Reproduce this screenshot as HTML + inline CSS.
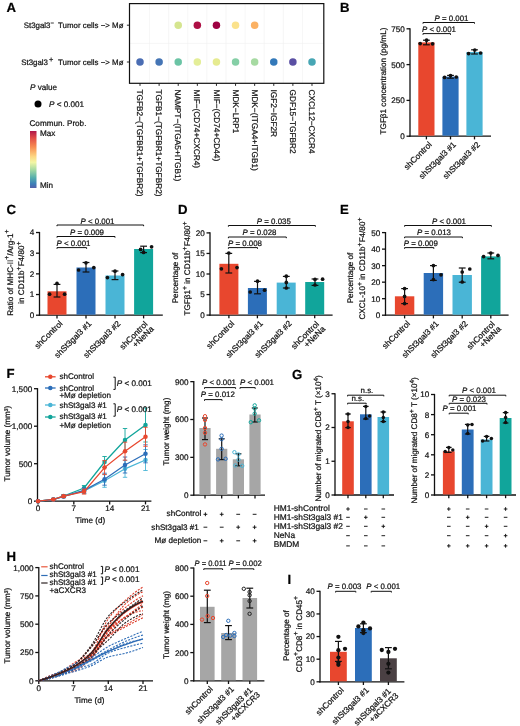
<!DOCTYPE html>
<html lang="en"><head><meta charset="utf-8"><title>Figure</title>
<style>html,body{margin:0;padding:0;background:#fff}svg{display:block}text{font-family:"Liberation Sans",Arial,sans-serif;text-rendering:geometricPrecision;stroke:#111;stroke-width:0.22px;paint-order:stroke}</style>
</head><body>
<svg width="520" height="726" viewBox="0 0 520 726">
<rect width="520" height="726" fill="#fff"/>
<!-- Panel A -->
<text x="6.50" y="12.30" font-size="13.2" text-anchor="start" font-weight="700" fill="#000">A</text>
<line x1="149.55" y1="3.60" x2="149.55" y2="83.30" stroke="#F0F0F0" stroke-width="0.6"/>
<line x1="168.66" y1="3.60" x2="168.66" y2="83.30" stroke="#F0F0F0" stroke-width="0.6"/>
<line x1="187.77" y1="3.60" x2="187.77" y2="83.30" stroke="#F0F0F0" stroke-width="0.6"/>
<line x1="206.88" y1="3.60" x2="206.88" y2="83.30" stroke="#F0F0F0" stroke-width="0.6"/>
<line x1="225.99" y1="3.60" x2="225.99" y2="83.30" stroke="#F0F0F0" stroke-width="0.6"/>
<line x1="245.10" y1="3.60" x2="245.10" y2="83.30" stroke="#F0F0F0" stroke-width="0.6"/>
<line x1="264.21" y1="3.60" x2="264.21" y2="83.30" stroke="#F0F0F0" stroke-width="0.6"/>
<line x1="283.32" y1="3.60" x2="283.32" y2="83.30" stroke="#F0F0F0" stroke-width="0.6"/>
<line x1="302.43" y1="3.60" x2="302.43" y2="83.30" stroke="#F0F0F0" stroke-width="0.6"/>
<line x1="129.50" y1="43.40" x2="323.80" y2="43.40" stroke="#F0F0F0" stroke-width="0.6"/>
<rect x="129.5" y="3.6" width="194.30" height="79.70" fill="none" stroke="#111" stroke-width="1.2"/>
<line x1="140.00" y1="83.30" x2="140.00" y2="85.90" stroke="#111" stroke-width="0.9"/>
<line x1="159.11" y1="83.30" x2="159.11" y2="85.90" stroke="#111" stroke-width="0.9"/>
<line x1="178.22" y1="83.30" x2="178.22" y2="85.90" stroke="#111" stroke-width="0.9"/>
<line x1="197.33" y1="83.30" x2="197.33" y2="85.90" stroke="#111" stroke-width="0.9"/>
<line x1="216.44" y1="83.30" x2="216.44" y2="85.90" stroke="#111" stroke-width="0.9"/>
<line x1="235.55" y1="83.30" x2="235.55" y2="85.90" stroke="#111" stroke-width="0.9"/>
<line x1="254.66" y1="83.30" x2="254.66" y2="85.90" stroke="#111" stroke-width="0.9"/>
<line x1="273.77" y1="83.30" x2="273.77" y2="85.90" stroke="#111" stroke-width="0.9"/>
<line x1="292.88" y1="83.30" x2="292.88" y2="85.90" stroke="#111" stroke-width="0.9"/>
<line x1="311.99" y1="83.30" x2="311.99" y2="85.90" stroke="#111" stroke-width="0.9"/>
<line x1="126.90" y1="25.20" x2="129.50" y2="25.20" stroke="#111" stroke-width="0.9"/>
<line x1="126.90" y1="62.00" x2="129.50" y2="62.00" stroke="#111" stroke-width="0.9"/>
<circle cx="178.22" cy="25.20" r="3.75" fill="#D5E58F"/>
<circle cx="197.33" cy="25.20" r="3.75" fill="#AE1045"/>
<circle cx="216.44" cy="25.20" r="3.75" fill="#9E0142"/>
<circle cx="235.55" cy="25.20" r="3.75" fill="#FBE28C"/>
<circle cx="254.66" cy="25.20" r="3.75" fill="#FBB163"/>
<circle cx="140.00" cy="62.00" r="3.75" fill="#4A6DB3"/>
<circle cx="159.11" cy="62.00" r="3.75" fill="#4575B5"/>
<circle cx="178.22" cy="62.00" r="3.75" fill="#6BC4A5"/>
<circle cx="197.33" cy="62.00" r="3.75" fill="#E4EE98"/>
<circle cx="216.44" cy="62.00" r="3.75" fill="#E6EB90"/>
<circle cx="235.55" cy="62.00" r="3.75" fill="#85CFA6"/>
<circle cx="254.66" cy="62.00" r="3.75" fill="#A6DAA2"/>
<circle cx="273.77" cy="62.00" r="3.75" fill="#3379B9"/>
<circle cx="292.88" cy="62.00" r="3.75" fill="#5A4FA3"/>
<circle cx="311.99" cy="62.00" r="3.75" fill="#47A6B4"/>
<text y="28.0" font-size="7.9" fill="#111"><tspan x="23.7">St3gal3</tspan><tspan x="50.4" dy="-3.2" font-size="6">−</tspan><tspan x="58.0" dy="3.2">Tumor cells −&gt; Mø</tspan></text>
<text y="65.0" font-size="7.9" fill="#111"><tspan x="21.2">St3gal3</tspan><tspan x="49.0" dy="-2.8" font-size="7.4">+</tspan><tspan x="58.0" dy="2.8">Tumor cells −&gt; Mø</tspan></text>
<text x="137.10" y="89.50" font-size="8.27" text-anchor="start" fill="#111" transform="rotate(90 137.10 89.50)">TGFB2−(TGFBR1+TGFBR2)</text>
<text x="156.21" y="89.50" font-size="8.27" text-anchor="start" fill="#111" transform="rotate(90 156.21 89.50)">TGFB1−(TGFBR1+TGFBR2)</text>
<text x="175.32" y="89.50" font-size="8.27" text-anchor="start" fill="#111" transform="rotate(90 175.32 89.50)">NAMPT−(ITGA5+ITGB1)</text>
<text x="194.43" y="89.50" font-size="8.27" text-anchor="start" fill="#111" transform="rotate(90 194.43 89.50)">MIF−(CD74+CXCR4)</text>
<text x="213.54" y="89.50" font-size="8.27" text-anchor="start" fill="#111" transform="rotate(90 213.54 89.50)">MIF−(CD74+CD44)</text>
<text x="232.65" y="89.50" font-size="8.27" text-anchor="start" fill="#111" transform="rotate(90 232.65 89.50)">MDK−LRP1</text>
<text x="251.76" y="89.50" font-size="8.27" text-anchor="start" fill="#111" transform="rotate(90 251.76 89.50)">MDK−(ITGA4+ITGB1)</text>
<text x="270.87" y="89.50" font-size="8.27" text-anchor="start" fill="#111" transform="rotate(90 270.87 89.50)">IGF2−IGF2R</text>
<text x="289.98" y="89.50" font-size="8.27" text-anchor="start" fill="#111" transform="rotate(90 289.98 89.50)">GDF15−TGFBR2</text>
<text x="309.09" y="89.50" font-size="8.27" text-anchor="start" fill="#111" transform="rotate(90 309.09 89.50)">CXCL12−CXCR4</text>
<text x="30.00" y="89.60" font-size="8.15" text-anchor="start" fill="#111"><tspan font-style="italic">P</tspan> value</text>
<circle cx="38.00" cy="104.00" r="3.5" fill="#000"/>
<text x="49.00" y="106.60" font-size="8.15" text-anchor="start" fill="#111"><tspan font-style="italic">P</tspan> &lt; 0.001</text>
<text x="29.50" y="126.00" font-size="8.15" text-anchor="start" fill="#111">Commun. Prob.</text>
<defs><linearGradient id="cb" x1="0" y1="0" x2="0" y2="1"><stop offset="0" stop-color="#B0174A"/><stop offset="0.12" stop-color="#E14B46"/><stop offset="0.28" stop-color="#F88D52"/><stop offset="0.45" stop-color="#FDD884"/><stop offset="0.55" stop-color="#F3F6A5"/><stop offset="0.68" stop-color="#A5DAA3"/><stop offset="0.82" stop-color="#54AEAD"/><stop offset="0.93" stop-color="#3C7DB8"/><stop offset="1" stop-color="#5560A9"/></linearGradient></defs>
<rect x="30" y="131" width="6.5" height="57" fill="url(#cb)"/>
<text x="40.00" y="135.60" font-size="8.15" text-anchor="start" fill="#111">Max</text>
<text x="40.00" y="187.60" font-size="8.15" text-anchor="start" fill="#111">Min</text>
<!-- Panel B -->
<text x="340.00" y="12.30" font-size="13.2" text-anchor="start" font-weight="700" fill="#000">B</text>
<line x1="410.00" y1="28.20" x2="410.00" y2="136.80" stroke="#111" stroke-width="1.3"/>
<line x1="406.50" y1="136.20" x2="410.00" y2="136.20" stroke="#111" stroke-width="1.3"/>
<text x="404.70" y="139.10" font-size="8.15" text-anchor="end" fill="#111">0</text>
<line x1="406.50" y1="100.40" x2="410.00" y2="100.40" stroke="#111" stroke-width="1.3"/>
<text x="404.70" y="103.30" font-size="8.15" text-anchor="end" fill="#111">250</text>
<line x1="406.50" y1="64.60" x2="410.00" y2="64.60" stroke="#111" stroke-width="1.3"/>
<text x="404.70" y="67.50" font-size="8.15" text-anchor="end" fill="#111">500</text>
<line x1="406.50" y1="28.80" x2="410.00" y2="28.80" stroke="#111" stroke-width="1.3"/>
<text x="404.70" y="31.70" font-size="8.15" text-anchor="end" fill="#111">750</text>
<line x1="409.40" y1="136.20" x2="491.00" y2="136.20" stroke="#111" stroke-width="1.3"/>
<line x1="426.40" y1="136.20" x2="426.40" y2="139.40" stroke="#111" stroke-width="1.3"/>
<line x1="450.50" y1="136.20" x2="450.50" y2="139.40" stroke="#111" stroke-width="1.3"/>
<line x1="474.50" y1="136.20" x2="474.50" y2="139.40" stroke="#111" stroke-width="1.3"/>
<rect x="418.30" y="42.40" width="16.20" height="93.30" fill="#E8472E"/>
<rect x="442.40" y="76.63" width="16.20" height="59.07" fill="#2C6EB9"/>
<rect x="466.40" y="52.00" width="16.20" height="83.70" fill="#4AB5D6"/>
<line x1="426.40" y1="40.20" x2="426.40" y2="44.80" stroke="#111" stroke-width="1.2"/>
<line x1="423.00" y1="40.20" x2="429.80" y2="40.20" stroke="#111" stroke-width="1.2"/>
<line x1="423.00" y1="44.80" x2="429.80" y2="44.80" stroke="#111" stroke-width="1.2"/>
<line x1="450.50" y1="75.40" x2="450.50" y2="78.20" stroke="#111" stroke-width="1.2"/>
<line x1="447.10" y1="75.40" x2="453.90" y2="75.40" stroke="#111" stroke-width="1.2"/>
<line x1="447.10" y1="78.20" x2="453.90" y2="78.20" stroke="#111" stroke-width="1.2"/>
<line x1="474.50" y1="49.80" x2="474.50" y2="54.00" stroke="#111" stroke-width="1.2"/>
<line x1="471.10" y1="49.80" x2="477.90" y2="49.80" stroke="#111" stroke-width="1.2"/>
<line x1="471.10" y1="54.00" x2="477.90" y2="54.00" stroke="#111" stroke-width="1.2"/>
<circle cx="420.20" cy="43.60" r="1.85" fill="#111"/>
<circle cx="426.60" cy="40.20" r="1.85" fill="#111"/>
<circle cx="432.60" cy="43.80" r="1.85" fill="#111"/>
<circle cx="444.60" cy="77.40" r="1.85" fill="#111"/>
<circle cx="450.50" cy="75.60" r="1.85" fill="#111"/>
<circle cx="456.30" cy="77.00" r="1.85" fill="#111"/>
<circle cx="468.60" cy="53.60" r="1.85" fill="#111"/>
<circle cx="474.80" cy="50.00" r="1.85" fill="#111"/>
<circle cx="480.60" cy="53.00" r="1.85" fill="#111"/>
<path d="M423.00 23.70V22.50H474.50V23.70" fill="none" stroke="#111" stroke-width="1"/>
<text x="434.50" y="20.60" font-size="7.9" text-anchor="start" fill="#111"><tspan font-style="italic">P</tspan> = 0.001</text>
<path d="M423.00 34.80V33.60H450.50V34.80" fill="none" stroke="#111" stroke-width="1"/>
<text x="422.00" y="32.00" font-size="7.9" text-anchor="start" fill="#111"><tspan font-style="italic">P</tspan> &lt; 0.001</text>
<text x="432.40" y="145.20" font-size="8.3" text-anchor="end" fill="#111" transform="rotate(-45 432.40 145.20)">shControl</text>
<text x="456.50" y="145.20" font-size="8.3" text-anchor="end" fill="#111" transform="rotate(-45 456.50 145.20)">shSt3gal3 #1</text>
<text x="480.50" y="145.20" font-size="8.3" text-anchor="end" fill="#111" transform="rotate(-45 480.50 145.20)">shSt3gal3 #2</text>
<text x="386.00" y="81.00" font-size="8.15" text-anchor="middle" fill="#111" transform="rotate(-90 386.00 81.00)">TGFβ1 concentration (pg/mL)</text>
<!-- Panel C -->
<text x="6.50" y="213.60" font-size="13.2" text-anchor="start" font-weight="700" fill="#000">C</text>
<line x1="39.50" y1="231.92" x2="39.50" y2="315.80" stroke="#111" stroke-width="1.3"/>
<line x1="36.00" y1="315.20" x2="39.50" y2="315.20" stroke="#111" stroke-width="1.3"/>
<text x="34.20" y="318.10" font-size="8.15" text-anchor="end" fill="#111">0</text>
<line x1="36.00" y1="294.53" x2="39.50" y2="294.53" stroke="#111" stroke-width="1.3"/>
<text x="34.20" y="297.43" font-size="8.15" text-anchor="end" fill="#111">1</text>
<line x1="36.00" y1="273.86" x2="39.50" y2="273.86" stroke="#111" stroke-width="1.3"/>
<text x="34.20" y="276.76" font-size="8.15" text-anchor="end" fill="#111">2</text>
<line x1="36.00" y1="253.19" x2="39.50" y2="253.19" stroke="#111" stroke-width="1.3"/>
<text x="34.20" y="256.09" font-size="8.15" text-anchor="end" fill="#111">3</text>
<line x1="36.00" y1="232.52" x2="39.50" y2="232.52" stroke="#111" stroke-width="1.3"/>
<text x="34.20" y="235.42" font-size="8.15" text-anchor="end" fill="#111">4</text>
<line x1="38.90" y1="315.20" x2="162.80" y2="315.20" stroke="#111" stroke-width="1.3"/>
<line x1="57.00" y1="315.20" x2="57.00" y2="318.40" stroke="#111" stroke-width="1.3"/>
<line x1="86.00" y1="315.20" x2="86.00" y2="318.40" stroke="#111" stroke-width="1.3"/>
<line x1="115.00" y1="315.20" x2="115.00" y2="318.40" stroke="#111" stroke-width="1.3"/>
<line x1="143.60" y1="315.20" x2="143.60" y2="318.40" stroke="#111" stroke-width="1.3"/>
<rect x="47.50" y="291.30" width="19.00" height="23.40" fill="#E8472E"/>
<rect x="76.50" y="267.50" width="19.00" height="47.20" fill="#2C6EB9"/>
<rect x="105.50" y="275.50" width="19.00" height="39.20" fill="#4AB5D6"/>
<rect x="134.10" y="249.00" width="19.00" height="65.70" fill="#11A59B"/>
<line x1="57.00" y1="284.40" x2="57.00" y2="297.00" stroke="#111" stroke-width="1.2"/>
<line x1="53.60" y1="284.40" x2="60.40" y2="284.40" stroke="#111" stroke-width="1.2"/>
<line x1="53.60" y1="297.00" x2="60.40" y2="297.00" stroke="#111" stroke-width="1.2"/>
<line x1="86.00" y1="262.50" x2="86.00" y2="272.00" stroke="#111" stroke-width="1.2"/>
<line x1="82.60" y1="262.50" x2="89.40" y2="262.50" stroke="#111" stroke-width="1.2"/>
<line x1="82.60" y1="272.00" x2="89.40" y2="272.00" stroke="#111" stroke-width="1.2"/>
<line x1="115.00" y1="271.00" x2="115.00" y2="279.60" stroke="#111" stroke-width="1.2"/>
<line x1="111.60" y1="271.00" x2="118.40" y2="271.00" stroke="#111" stroke-width="1.2"/>
<line x1="111.60" y1="279.60" x2="118.40" y2="279.60" stroke="#111" stroke-width="1.2"/>
<line x1="143.60" y1="246.20" x2="143.60" y2="252.60" stroke="#111" stroke-width="1.2"/>
<line x1="140.20" y1="246.20" x2="147.00" y2="246.20" stroke="#111" stroke-width="1.2"/>
<line x1="140.20" y1="252.60" x2="147.00" y2="252.60" stroke="#111" stroke-width="1.2"/>
<circle cx="57.00" cy="283.40" r="1.85" fill="#111"/>
<circle cx="49.60" cy="294.20" r="1.85" fill="#111"/>
<circle cx="64.60" cy="294.20" r="1.85" fill="#111"/>
<circle cx="86.00" cy="262.80" r="1.85" fill="#111"/>
<circle cx="78.60" cy="270.00" r="1.85" fill="#111"/>
<circle cx="93.80" cy="267.60" r="1.85" fill="#111"/>
<circle cx="115.00" cy="271.20" r="1.85" fill="#111"/>
<circle cx="107.40" cy="277.60" r="1.85" fill="#111"/>
<circle cx="122.60" cy="274.60" r="1.85" fill="#111"/>
<circle cx="140.60" cy="249.40" r="1.85" fill="#111"/>
<circle cx="151.60" cy="246.80" r="1.85" fill="#111"/>
<circle cx="143.60" cy="252.40" r="1.85" fill="#111"/>
<path d="M57.00 226.20V225.00H143.60V226.20" fill="none" stroke="#111" stroke-width="1"/>
<text x="80.50" y="224.00" font-size="7.9" text-anchor="start" fill="#111"><tspan font-style="italic">P</tspan> &lt; 0.001</text>
<path d="M57.00 237.70V236.50H115.00V237.70" fill="none" stroke="#111" stroke-width="1"/>
<text x="70.00" y="234.60" font-size="7.9" text-anchor="start" fill="#111"><tspan font-style="italic">P</tspan> = 0.009</text>
<path d="M57.00 248.80V247.60H86.60V248.80" fill="none" stroke="#111" stroke-width="1"/>
<text x="56.50" y="246.40" font-size="7.9" text-anchor="start" fill="#111"><tspan font-style="italic">P</tspan> &lt; 0.001</text>
<text x="63.00" y="324.20" font-size="8.3" text-anchor="end" fill="#111" transform="rotate(-45 63.00 324.20)">shControl</text>
<text x="92.00" y="324.20" font-size="8.3" text-anchor="end" fill="#111" transform="rotate(-45 92.00 324.20)">shSt3gal3 #1</text>
<text x="121.00" y="324.20" font-size="8.3" text-anchor="end" fill="#111" transform="rotate(-45 121.00 324.20)">shSt3gal3 #2</text>
<text x="148.10" y="324.80" font-size="8.3" text-anchor="end" fill="#111" transform="rotate(-45 148.10 324.80)">shControl</text>
<text x="154.30" y="329.60" font-size="8.3" text-anchor="end" fill="#111" transform="rotate(-45 154.30 329.60)">+NeNa</text>
<text x="12.60" y="272.60" font-size="8.15" text-anchor="middle" fill="#111" transform="rotate(-90 12.60 272.60)">Ratio of MHC-II<tspan dy="-3.3" font-size="7.0">+</tspan><tspan dy="3.3" font-size="7.0">&#8203;</tspan>/Arg-1<tspan dy="-3.3" font-size="7.0">+</tspan><tspan dy="3.3" font-size="7.0">&#8203;</tspan></text>
<text x="24.40" y="272.60" font-size="8.15" text-anchor="middle" fill="#111" transform="rotate(-90 24.40 272.60)">in CD11b<tspan dy="-3.3" font-size="7.0">+</tspan><tspan dy="3.3" font-size="7.0">&#8203;</tspan>F4/80<tspan dy="-3.3" font-size="7.0">+</tspan><tspan dy="3.3" font-size="7.0">&#8203;</tspan></text>
<!-- Panel D -->
<text x="178.00" y="213.60" font-size="13.2" text-anchor="start" font-weight="700" fill="#000">D</text>
<line x1="210.00" y1="232.30" x2="210.00" y2="315.70" stroke="#111" stroke-width="1.3"/>
<line x1="206.50" y1="315.10" x2="210.00" y2="315.10" stroke="#111" stroke-width="1.3"/>
<text x="204.70" y="318.00" font-size="8.15" text-anchor="end" fill="#111">0</text>
<line x1="206.50" y1="294.55" x2="210.00" y2="294.55" stroke="#111" stroke-width="1.3"/>
<text x="204.70" y="297.45" font-size="8.15" text-anchor="end" fill="#111">5</text>
<line x1="206.50" y1="274.00" x2="210.00" y2="274.00" stroke="#111" stroke-width="1.3"/>
<text x="204.70" y="276.90" font-size="8.15" text-anchor="end" fill="#111">10</text>
<line x1="206.50" y1="253.45" x2="210.00" y2="253.45" stroke="#111" stroke-width="1.3"/>
<text x="204.70" y="256.35" font-size="8.15" text-anchor="end" fill="#111">15</text>
<line x1="206.50" y1="232.90" x2="210.00" y2="232.90" stroke="#111" stroke-width="1.3"/>
<text x="204.70" y="235.80" font-size="8.15" text-anchor="end" fill="#111">20</text>
<line x1="209.40" y1="315.10" x2="332.60" y2="315.10" stroke="#111" stroke-width="1.3"/>
<line x1="228.90" y1="315.10" x2="228.90" y2="318.30" stroke="#111" stroke-width="1.3"/>
<line x1="257.40" y1="315.10" x2="257.40" y2="318.30" stroke="#111" stroke-width="1.3"/>
<line x1="286.20" y1="315.10" x2="286.20" y2="318.30" stroke="#111" stroke-width="1.3"/>
<line x1="314.70" y1="315.10" x2="314.70" y2="318.30" stroke="#111" stroke-width="1.3"/>
<rect x="219.40" y="263.80" width="19.00" height="50.80" fill="#E8472E"/>
<rect x="247.90" y="288.00" width="19.00" height="26.60" fill="#2C6EB9"/>
<rect x="276.70" y="282.60" width="19.00" height="32.00" fill="#4AB5D6"/>
<rect x="305.20" y="282.00" width="19.00" height="32.60" fill="#11A59B"/>
<line x1="228.80" y1="253.40" x2="228.80" y2="273.00" stroke="#111" stroke-width="1.2"/>
<line x1="225.40" y1="253.40" x2="232.20" y2="253.40" stroke="#111" stroke-width="1.2"/>
<line x1="225.40" y1="273.00" x2="232.20" y2="273.00" stroke="#111" stroke-width="1.2"/>
<line x1="257.50" y1="281.40" x2="257.50" y2="293.80" stroke="#111" stroke-width="1.2"/>
<line x1="254.10" y1="281.40" x2="260.90" y2="281.40" stroke="#111" stroke-width="1.2"/>
<line x1="254.10" y1="293.80" x2="260.90" y2="293.80" stroke="#111" stroke-width="1.2"/>
<line x1="286.30" y1="276.40" x2="286.30" y2="288.00" stroke="#111" stroke-width="1.2"/>
<line x1="282.90" y1="276.40" x2="289.70" y2="276.40" stroke="#111" stroke-width="1.2"/>
<line x1="282.90" y1="288.00" x2="289.70" y2="288.00" stroke="#111" stroke-width="1.2"/>
<line x1="315.00" y1="279.00" x2="315.00" y2="285.40" stroke="#111" stroke-width="1.2"/>
<line x1="311.60" y1="279.00" x2="318.40" y2="279.00" stroke="#111" stroke-width="1.2"/>
<line x1="311.60" y1="285.40" x2="318.40" y2="285.40" stroke="#111" stroke-width="1.2"/>
<circle cx="228.80" cy="253.00" r="1.85" fill="#111"/>
<circle cx="221.40" cy="268.80" r="1.85" fill="#111"/>
<circle cx="237.00" cy="267.60" r="1.85" fill="#111"/>
<circle cx="257.50" cy="281.20" r="1.85" fill="#111"/>
<circle cx="250.20" cy="292.00" r="1.85" fill="#111"/>
<circle cx="264.60" cy="290.20" r="1.85" fill="#111"/>
<circle cx="286.30" cy="276.20" r="1.85" fill="#111"/>
<circle cx="286.30" cy="282.40" r="1.85" fill="#111"/>
<circle cx="286.30" cy="288.00" r="1.85" fill="#111"/>
<circle cx="315.00" cy="279.40" r="1.85" fill="#111"/>
<circle cx="322.60" cy="279.20" r="1.85" fill="#111"/>
<circle cx="315.00" cy="285.00" r="1.85" fill="#111"/>
<path d="M228.40 226.70V225.50H315.40V226.70" fill="none" stroke="#111" stroke-width="1"/>
<text x="256.80" y="224.00" font-size="7.9" text-anchor="start" fill="#111"><tspan font-style="italic">P</tspan> = 0.035</text>
<path d="M228.40 238.20V237.00H286.30V238.20" fill="none" stroke="#111" stroke-width="1"/>
<text x="242.50" y="235.20" font-size="7.9" text-anchor="start" fill="#111"><tspan font-style="italic">P</tspan> = 0.028</text>
<path d="M228.40 248.80V247.60H257.50V248.80" fill="none" stroke="#111" stroke-width="1"/>
<text x="228.00" y="246.30" font-size="7.9" text-anchor="start" fill="#111"><tspan font-style="italic">P</tspan> = 0.008</text>
<text x="234.90" y="324.10" font-size="8.3" text-anchor="end" fill="#111" transform="rotate(-45 234.90 324.10)">shControl</text>
<text x="263.40" y="324.10" font-size="8.3" text-anchor="end" fill="#111" transform="rotate(-45 263.40 324.10)">shSt3gal3 #1</text>
<text x="292.20" y="324.10" font-size="8.3" text-anchor="end" fill="#111" transform="rotate(-45 292.20 324.10)">shSt3gal3 #2</text>
<text x="319.50" y="324.70" font-size="8.3" text-anchor="end" fill="#111" transform="rotate(-45 319.50 324.70)">shControl</text>
<text x="325.70" y="329.50" font-size="8.3" text-anchor="end" fill="#111" transform="rotate(-45 325.70 329.50)">+NeNa</text>
<text x="178.40" y="278.00" font-size="8.15" text-anchor="middle" fill="#111" transform="rotate(-90 178.40 278.00)">Percentage of</text>
<text x="190.20" y="268.50" font-size="8.15" text-anchor="middle" fill="#111" transform="rotate(-90 190.20 268.50)">TGFβ1<tspan dy="-3.3" font-size="7.0">+</tspan><tspan dy="3.3" font-size="7.0">&#8203;</tspan> in CD11b<tspan dy="-3.3" font-size="7.0">+</tspan><tspan dy="3.3" font-size="7.0">&#8203;</tspan>F4/80<tspan dy="-3.3" font-size="7.0">+</tspan><tspan dy="3.3" font-size="7.0">&#8203;</tspan></text>
<!-- Panel E -->
<text x="340.00" y="213.60" font-size="13.2" text-anchor="start" font-weight="700" fill="#000">E</text>
<line x1="385.50" y1="232.00" x2="385.50" y2="315.80" stroke="#111" stroke-width="1.3"/>
<line x1="382.00" y1="315.20" x2="385.50" y2="315.20" stroke="#111" stroke-width="1.3"/>
<text x="380.20" y="318.10" font-size="8.15" text-anchor="end" fill="#111">0</text>
<line x1="382.00" y1="298.68" x2="385.50" y2="298.68" stroke="#111" stroke-width="1.3"/>
<text x="380.20" y="301.58" font-size="8.15" text-anchor="end" fill="#111">10</text>
<line x1="382.00" y1="282.16" x2="385.50" y2="282.16" stroke="#111" stroke-width="1.3"/>
<text x="380.20" y="285.06" font-size="8.15" text-anchor="end" fill="#111">20</text>
<line x1="382.00" y1="265.64" x2="385.50" y2="265.64" stroke="#111" stroke-width="1.3"/>
<text x="380.20" y="268.54" font-size="8.15" text-anchor="end" fill="#111">30</text>
<line x1="382.00" y1="249.12" x2="385.50" y2="249.12" stroke="#111" stroke-width="1.3"/>
<text x="380.20" y="252.02" font-size="8.15" text-anchor="end" fill="#111">40</text>
<line x1="382.00" y1="232.60" x2="385.50" y2="232.60" stroke="#111" stroke-width="1.3"/>
<text x="380.20" y="235.50" font-size="8.15" text-anchor="end" fill="#111">50</text>
<line x1="384.90" y1="315.20" x2="508.60" y2="315.20" stroke="#111" stroke-width="1.3"/>
<line x1="404.60" y1="315.20" x2="404.60" y2="318.40" stroke="#111" stroke-width="1.3"/>
<line x1="433.40" y1="315.20" x2="433.40" y2="318.40" stroke="#111" stroke-width="1.3"/>
<line x1="462.20" y1="315.20" x2="462.20" y2="318.40" stroke="#111" stroke-width="1.3"/>
<line x1="490.80" y1="315.20" x2="490.80" y2="318.40" stroke="#111" stroke-width="1.3"/>
<rect x="394.90" y="296.30" width="19.40" height="18.40" fill="#E8472E"/>
<rect x="423.70" y="273.00" width="19.40" height="41.70" fill="#2C6EB9"/>
<rect x="452.50" y="275.00" width="19.40" height="39.70" fill="#4AB5D6"/>
<rect x="481.10" y="256.40" width="19.40" height="58.30" fill="#11A59B"/>
<line x1="404.60" y1="288.60" x2="404.60" y2="303.60" stroke="#111" stroke-width="1.2"/>
<line x1="401.20" y1="288.60" x2="408.00" y2="288.60" stroke="#111" stroke-width="1.2"/>
<line x1="401.20" y1="303.60" x2="408.00" y2="303.60" stroke="#111" stroke-width="1.2"/>
<line x1="433.40" y1="265.60" x2="433.40" y2="280.40" stroke="#111" stroke-width="1.2"/>
<line x1="430.00" y1="265.60" x2="436.80" y2="265.60" stroke="#111" stroke-width="1.2"/>
<line x1="430.00" y1="280.40" x2="436.80" y2="280.40" stroke="#111" stroke-width="1.2"/>
<line x1="462.20" y1="268.00" x2="462.20" y2="282.20" stroke="#111" stroke-width="1.2"/>
<line x1="458.80" y1="268.00" x2="465.60" y2="268.00" stroke="#111" stroke-width="1.2"/>
<line x1="458.80" y1="282.20" x2="465.60" y2="282.20" stroke="#111" stroke-width="1.2"/>
<line x1="490.80" y1="253.00" x2="490.80" y2="258.80" stroke="#111" stroke-width="1.2"/>
<line x1="487.40" y1="253.00" x2="494.20" y2="253.00" stroke="#111" stroke-width="1.2"/>
<line x1="487.40" y1="258.80" x2="494.20" y2="258.80" stroke="#111" stroke-width="1.2"/>
<circle cx="404.60" cy="288.60" r="1.85" fill="#111"/>
<circle cx="404.60" cy="296.40" r="1.85" fill="#111"/>
<circle cx="404.60" cy="303.60" r="1.85" fill="#111"/>
<circle cx="433.40" cy="265.60" r="1.85" fill="#111"/>
<circle cx="441.00" cy="274.80" r="1.85" fill="#111"/>
<circle cx="433.40" cy="279.60" r="1.85" fill="#111"/>
<circle cx="462.20" cy="272.00" r="1.85" fill="#111"/>
<circle cx="469.80" cy="269.00" r="1.85" fill="#111"/>
<circle cx="462.20" cy="282.00" r="1.85" fill="#111"/>
<circle cx="490.80" cy="253.00" r="1.85" fill="#111"/>
<circle cx="483.60" cy="256.60" r="1.85" fill="#111"/>
<circle cx="498.00" cy="255.40" r="1.85" fill="#111"/>
<path d="M404.60 226.70V225.50H491.40V226.70" fill="none" stroke="#111" stroke-width="1"/>
<text x="432.00" y="223.80" font-size="7.9" text-anchor="start" fill="#111"><tspan font-style="italic">P</tspan> &lt; 0.001</text>
<path d="M404.60 238.20V237.00H462.40V238.20" fill="none" stroke="#111" stroke-width="1"/>
<text x="417.00" y="235.20" font-size="7.9" text-anchor="start" fill="#111"><tspan font-style="italic">P</tspan> = 0.013</text>
<path d="M404.60 248.80V247.60H433.80V248.80" fill="none" stroke="#111" stroke-width="1"/>
<text x="403.80" y="246.20" font-size="7.9" text-anchor="start" fill="#111"><tspan font-style="italic">P</tspan> = 0.009</text>
<text x="410.60" y="324.20" font-size="8.3" text-anchor="end" fill="#111" transform="rotate(-45 410.60 324.20)">shControl</text>
<text x="439.40" y="324.20" font-size="8.3" text-anchor="end" fill="#111" transform="rotate(-45 439.40 324.20)">shSt3gal3 #1</text>
<text x="468.20" y="324.20" font-size="8.3" text-anchor="end" fill="#111" transform="rotate(-45 468.20 324.20)">shSt3gal3 #2</text>
<text x="495.30" y="324.80" font-size="8.3" text-anchor="end" fill="#111" transform="rotate(-45 495.30 324.80)">shControl</text>
<text x="501.50" y="329.60" font-size="8.3" text-anchor="end" fill="#111" transform="rotate(-45 501.50 329.60)">+NeNa</text>
<text x="353.40" y="278.00" font-size="8.15" text-anchor="middle" fill="#111" transform="rotate(-90 353.40 278.00)">Percentage of</text>
<text x="365.40" y="268.50" font-size="8.15" text-anchor="middle" fill="#111" transform="rotate(-90 365.40 268.50)">CXCL-10<tspan dy="-3.3" font-size="7.0">+</tspan><tspan dy="3.3" font-size="7.0">&#8203;</tspan> in CD11b<tspan dy="-3.3" font-size="7.0">+</tspan><tspan dy="3.3" font-size="7.0">&#8203;</tspan>F4/80<tspan dy="-3.3" font-size="7.0">+</tspan><tspan dy="3.3" font-size="7.0">&#8203;</tspan></text>
<!-- Panel F -->
<text x="6.50" y="378.40" font-size="13.2" text-anchor="start" font-weight="700" fill="#000">F</text>
<line x1="37.50" y1="388.10" x2="37.50" y2="501.80" stroke="#111" stroke-width="1.3"/>
<line x1="34.00" y1="501.20" x2="37.50" y2="501.20" stroke="#111" stroke-width="1.3"/>
<text x="32.20" y="504.10" font-size="8.15" text-anchor="end" fill="#111">0</text>
<line x1="34.00" y1="463.70" x2="37.50" y2="463.70" stroke="#111" stroke-width="1.3"/>
<text x="32.20" y="466.60" font-size="8.15" text-anchor="end" fill="#111">500</text>
<line x1="34.00" y1="426.20" x2="37.50" y2="426.20" stroke="#111" stroke-width="1.3"/>
<text x="32.20" y="429.10" font-size="8.15" text-anchor="end" fill="#111">1,000</text>
<line x1="34.00" y1="388.70" x2="37.50" y2="388.70" stroke="#111" stroke-width="1.3"/>
<text x="32.20" y="391.60" font-size="8.15" text-anchor="end" fill="#111">1,500</text>
<line x1="36.90" y1="501.20" x2="151.40" y2="501.20" stroke="#111" stroke-width="1.3"/>
<line x1="38.00" y1="501.20" x2="38.00" y2="504.40" stroke="#111" stroke-width="1.3"/>
<line x1="73.83" y1="501.20" x2="73.83" y2="504.40" stroke="#111" stroke-width="1.3"/>
<line x1="109.67" y1="501.20" x2="109.67" y2="504.40" stroke="#111" stroke-width="1.3"/>
<line x1="145.50" y1="501.20" x2="145.50" y2="504.40" stroke="#111" stroke-width="1.3"/>
<text x="38.00" y="511.40" font-size="8.15" text-anchor="middle" fill="#111">0</text>
<text x="73.83" y="511.40" font-size="8.15" text-anchor="middle" fill="#111">7</text>
<text x="109.67" y="511.40" font-size="8.15" text-anchor="middle" fill="#111">14</text>
<text x="145.50" y="511.40" font-size="8.15" text-anchor="middle" fill="#111">21</text>
<text x="90.30" y="522.80" font-size="8.15" text-anchor="middle" fill="#111">Time (d)</text>
<text x="10.40" y="443.60" font-size="8.15" text-anchor="middle" fill="#111" transform="rotate(-90 10.40 443.60)">Tumor volume (mm<tspan dy="-2.6" font-size="5">3</tspan><tspan dy="2.6" font-size="5">&#8203;</tspan>)</text>
<line x1="53.36" y1="498.60" x2="53.36" y2="500.20" stroke="#11A59B" stroke-width="0.9"/>
<line x1="51.16" y1="498.60" x2="55.56" y2="498.60" stroke="#11A59B" stroke-width="0.9"/>
<line x1="51.16" y1="500.20" x2="55.56" y2="500.20" stroke="#11A59B" stroke-width="0.9"/>
<line x1="63.59" y1="494.80" x2="63.59" y2="497.20" stroke="#11A59B" stroke-width="0.9"/>
<line x1="61.39" y1="494.80" x2="65.80" y2="494.80" stroke="#11A59B" stroke-width="0.9"/>
<line x1="61.39" y1="497.20" x2="65.80" y2="497.20" stroke="#11A59B" stroke-width="0.9"/>
<line x1="84.07" y1="485.50" x2="84.07" y2="490.50" stroke="#11A59B" stroke-width="0.9"/>
<line x1="81.87" y1="485.50" x2="86.27" y2="485.50" stroke="#11A59B" stroke-width="0.9"/>
<line x1="81.87" y1="490.50" x2="86.27" y2="490.50" stroke="#11A59B" stroke-width="0.9"/>
<line x1="104.55" y1="456.50" x2="104.55" y2="467.50" stroke="#11A59B" stroke-width="0.9"/>
<line x1="102.35" y1="456.50" x2="106.75" y2="456.50" stroke="#11A59B" stroke-width="0.9"/>
<line x1="102.35" y1="467.50" x2="106.75" y2="467.50" stroke="#11A59B" stroke-width="0.9"/>
<line x1="125.02" y1="428.50" x2="125.02" y2="451.50" stroke="#11A59B" stroke-width="0.9"/>
<line x1="122.82" y1="428.50" x2="127.22" y2="428.50" stroke="#11A59B" stroke-width="0.9"/>
<line x1="122.82" y1="451.50" x2="127.22" y2="451.50" stroke="#11A59B" stroke-width="0.9"/>
<line x1="145.50" y1="408.00" x2="145.50" y2="442.00" stroke="#11A59B" stroke-width="0.9"/>
<line x1="143.30" y1="408.00" x2="147.70" y2="408.00" stroke="#11A59B" stroke-width="0.9"/>
<line x1="143.30" y1="442.00" x2="147.70" y2="442.00" stroke="#11A59B" stroke-width="0.9"/>
<polyline points="38.00,501.20 53.36,499.40 63.59,496.00 84.07,488.00 104.55,462.00 125.02,440.00 145.50,425.00" fill="none" stroke="#11A59B" stroke-width="1.3"/>
<circle cx="38.00" cy="501.20" r="2.25" fill="#11A59B"/>
<circle cx="53.36" cy="499.40" r="2.25" fill="#11A59B"/>
<circle cx="63.59" cy="496.00" r="2.25" fill="#11A59B"/>
<circle cx="84.07" cy="488.00" r="2.25" fill="#11A59B"/>
<circle cx="104.55" cy="462.00" r="2.25" fill="#11A59B"/>
<circle cx="125.02" cy="440.00" r="2.25" fill="#11A59B"/>
<circle cx="145.50" cy="425.00" r="2.25" fill="#11A59B"/>
<line x1="53.36" y1="498.80" x2="53.36" y2="500.40" stroke="#4AB5D6" stroke-width="0.9"/>
<line x1="51.16" y1="498.80" x2="55.56" y2="498.80" stroke="#4AB5D6" stroke-width="0.9"/>
<line x1="51.16" y1="500.40" x2="55.56" y2="500.40" stroke="#4AB5D6" stroke-width="0.9"/>
<line x1="63.59" y1="495.20" x2="63.59" y2="497.60" stroke="#4AB5D6" stroke-width="0.9"/>
<line x1="61.39" y1="495.20" x2="65.80" y2="495.20" stroke="#4AB5D6" stroke-width="0.9"/>
<line x1="61.39" y1="497.60" x2="65.80" y2="497.60" stroke="#4AB5D6" stroke-width="0.9"/>
<line x1="84.07" y1="488.50" x2="84.07" y2="493.50" stroke="#4AB5D6" stroke-width="0.9"/>
<line x1="81.87" y1="488.50" x2="86.27" y2="488.50" stroke="#4AB5D6" stroke-width="0.9"/>
<line x1="81.87" y1="493.50" x2="86.27" y2="493.50" stroke="#4AB5D6" stroke-width="0.9"/>
<line x1="104.55" y1="474.30" x2="104.55" y2="487.30" stroke="#4AB5D6" stroke-width="0.9"/>
<line x1="102.35" y1="474.30" x2="106.75" y2="474.30" stroke="#4AB5D6" stroke-width="0.9"/>
<line x1="102.35" y1="487.30" x2="106.75" y2="487.30" stroke="#4AB5D6" stroke-width="0.9"/>
<line x1="125.02" y1="460.30" x2="125.02" y2="477.30" stroke="#4AB5D6" stroke-width="0.9"/>
<line x1="122.82" y1="460.30" x2="127.22" y2="460.30" stroke="#4AB5D6" stroke-width="0.9"/>
<line x1="122.82" y1="477.30" x2="127.22" y2="477.30" stroke="#4AB5D6" stroke-width="0.9"/>
<line x1="145.50" y1="449.50" x2="145.50" y2="470.50" stroke="#4AB5D6" stroke-width="0.9"/>
<line x1="143.30" y1="449.50" x2="147.70" y2="449.50" stroke="#4AB5D6" stroke-width="0.9"/>
<line x1="143.30" y1="470.50" x2="147.70" y2="470.50" stroke="#4AB5D6" stroke-width="0.9"/>
<polyline points="38.00,501.20 53.36,499.60 63.59,496.40 84.07,491.00 104.55,480.80 125.02,468.80 145.50,460.00" fill="none" stroke="#4AB5D6" stroke-width="1.3"/>
<circle cx="38.00" cy="501.20" r="2.25" fill="#4AB5D6"/>
<circle cx="53.36" cy="499.60" r="2.25" fill="#4AB5D6"/>
<circle cx="63.59" cy="496.40" r="2.25" fill="#4AB5D6"/>
<circle cx="84.07" cy="491.00" r="2.25" fill="#4AB5D6"/>
<circle cx="104.55" cy="480.80" r="2.25" fill="#4AB5D6"/>
<circle cx="125.02" cy="468.80" r="2.25" fill="#4AB5D6"/>
<circle cx="145.50" cy="460.00" r="2.25" fill="#4AB5D6"/>
<line x1="53.36" y1="498.80" x2="53.36" y2="500.40" stroke="#2C6EB9" stroke-width="0.9"/>
<line x1="51.16" y1="498.80" x2="55.56" y2="498.80" stroke="#2C6EB9" stroke-width="0.9"/>
<line x1="51.16" y1="500.40" x2="55.56" y2="500.40" stroke="#2C6EB9" stroke-width="0.9"/>
<line x1="63.59" y1="495.20" x2="63.59" y2="497.60" stroke="#2C6EB9" stroke-width="0.9"/>
<line x1="61.39" y1="495.20" x2="65.80" y2="495.20" stroke="#2C6EB9" stroke-width="0.9"/>
<line x1="61.39" y1="497.60" x2="65.80" y2="497.60" stroke="#2C6EB9" stroke-width="0.9"/>
<line x1="84.07" y1="487.90" x2="84.07" y2="492.90" stroke="#2C6EB9" stroke-width="0.9"/>
<line x1="81.87" y1="487.90" x2="86.27" y2="487.90" stroke="#2C6EB9" stroke-width="0.9"/>
<line x1="81.87" y1="492.90" x2="86.27" y2="492.90" stroke="#2C6EB9" stroke-width="0.9"/>
<line x1="104.55" y1="473.20" x2="104.55" y2="485.20" stroke="#2C6EB9" stroke-width="0.9"/>
<line x1="102.35" y1="473.20" x2="106.75" y2="473.20" stroke="#2C6EB9" stroke-width="0.9"/>
<line x1="102.35" y1="485.20" x2="106.75" y2="485.20" stroke="#2C6EB9" stroke-width="0.9"/>
<line x1="125.02" y1="457.00" x2="125.02" y2="473.00" stroke="#2C6EB9" stroke-width="0.9"/>
<line x1="122.82" y1="457.00" x2="127.22" y2="457.00" stroke="#2C6EB9" stroke-width="0.9"/>
<line x1="122.82" y1="473.00" x2="127.22" y2="473.00" stroke="#2C6EB9" stroke-width="0.9"/>
<line x1="145.50" y1="444.80" x2="145.50" y2="462.80" stroke="#2C6EB9" stroke-width="0.9"/>
<line x1="143.30" y1="444.80" x2="147.70" y2="444.80" stroke="#2C6EB9" stroke-width="0.9"/>
<line x1="143.30" y1="462.80" x2="147.70" y2="462.80" stroke="#2C6EB9" stroke-width="0.9"/>
<polyline points="38.00,501.20 53.36,499.60 63.59,496.40 84.07,490.40 104.55,479.20 125.02,465.00 145.50,453.80" fill="none" stroke="#2C6EB9" stroke-width="1.3"/>
<circle cx="38.00" cy="501.20" r="2.25" fill="#2C6EB9"/>
<circle cx="53.36" cy="499.60" r="2.25" fill="#2C6EB9"/>
<circle cx="63.59" cy="496.40" r="2.25" fill="#2C6EB9"/>
<circle cx="84.07" cy="490.40" r="2.25" fill="#2C6EB9"/>
<circle cx="104.55" cy="479.20" r="2.25" fill="#2C6EB9"/>
<circle cx="125.02" cy="465.00" r="2.25" fill="#2C6EB9"/>
<circle cx="145.50" cy="453.80" r="2.25" fill="#2C6EB9"/>
<line x1="53.36" y1="498.60" x2="53.36" y2="500.20" stroke="#E8472E" stroke-width="0.9"/>
<line x1="51.16" y1="498.60" x2="55.56" y2="498.60" stroke="#E8472E" stroke-width="0.9"/>
<line x1="51.16" y1="500.20" x2="55.56" y2="500.20" stroke="#E8472E" stroke-width="0.9"/>
<line x1="63.59" y1="495.00" x2="63.59" y2="497.40" stroke="#E8472E" stroke-width="0.9"/>
<line x1="61.39" y1="495.00" x2="65.80" y2="495.00" stroke="#E8472E" stroke-width="0.9"/>
<line x1="61.39" y1="497.40" x2="65.80" y2="497.40" stroke="#E8472E" stroke-width="0.9"/>
<line x1="84.07" y1="489.10" x2="84.07" y2="494.10" stroke="#E8472E" stroke-width="0.9"/>
<line x1="81.87" y1="489.10" x2="86.27" y2="489.10" stroke="#E8472E" stroke-width="0.9"/>
<line x1="81.87" y1="494.10" x2="86.27" y2="494.10" stroke="#E8472E" stroke-width="0.9"/>
<line x1="104.55" y1="460.60" x2="104.55" y2="474.60" stroke="#E8472E" stroke-width="0.9"/>
<line x1="102.35" y1="460.60" x2="106.75" y2="460.60" stroke="#E8472E" stroke-width="0.9"/>
<line x1="102.35" y1="474.60" x2="106.75" y2="474.60" stroke="#E8472E" stroke-width="0.9"/>
<line x1="125.02" y1="442.20" x2="125.02" y2="460.20" stroke="#E8472E" stroke-width="0.9"/>
<line x1="122.82" y1="442.20" x2="127.22" y2="442.20" stroke="#E8472E" stroke-width="0.9"/>
<line x1="122.82" y1="460.20" x2="127.22" y2="460.20" stroke="#E8472E" stroke-width="0.9"/>
<line x1="145.50" y1="427.30" x2="145.50" y2="446.30" stroke="#E8472E" stroke-width="0.9"/>
<line x1="143.30" y1="427.30" x2="147.70" y2="427.30" stroke="#E8472E" stroke-width="0.9"/>
<line x1="143.30" y1="446.30" x2="147.70" y2="446.30" stroke="#E8472E" stroke-width="0.9"/>
<polyline points="38.00,501.20 53.36,499.40 63.59,496.20 84.07,491.60 104.55,467.60 125.02,451.20 145.50,436.80" fill="none" stroke="#E8472E" stroke-width="1.3"/>
<circle cx="38.00" cy="501.20" r="2.25" fill="#E8472E"/>
<circle cx="53.36" cy="499.40" r="2.25" fill="#E8472E"/>
<circle cx="63.59" cy="496.20" r="2.25" fill="#E8472E"/>
<circle cx="84.07" cy="491.60" r="2.25" fill="#E8472E"/>
<circle cx="104.55" cy="467.60" r="2.25" fill="#E8472E"/>
<circle cx="125.02" cy="451.20" r="2.25" fill="#E8472E"/>
<circle cx="145.50" cy="436.80" r="2.25" fill="#E8472E"/>
<line x1="45.00" y1="376.80" x2="55.60" y2="376.80" stroke="#E8472E" stroke-width="1.3"/>
<circle cx="50.30" cy="376.80" r="2.25" fill="#E8472E"/>
<text x="59.40" y="379.20" font-size="8.1" text-anchor="start" fill="#111">shControl</text>
<line x1="45.00" y1="388.00" x2="55.60" y2="388.00" stroke="#2C6EB9" stroke-width="1.3"/>
<circle cx="50.30" cy="388.00" r="2.25" fill="#2C6EB9"/>
<text x="59.40" y="390.60" font-size="8.1" text-anchor="start" fill="#111">shControl</text>
<text x="59.40" y="398.20" font-size="8.1" text-anchor="start" fill="#111">+Mø depletion</text>
<line x1="45.00" y1="405.00" x2="55.60" y2="405.00" stroke="#4AB5D6" stroke-width="1.3"/>
<circle cx="50.30" cy="405.00" r="2.25" fill="#4AB5D6"/>
<text x="59.40" y="408.00" font-size="8.1" text-anchor="start" fill="#111">shSt3gal3 #1</text>
<line x1="45.00" y1="417.00" x2="55.60" y2="417.00" stroke="#11A59B" stroke-width="1.3"/>
<circle cx="50.30" cy="417.00" r="2.25" fill="#11A59B"/>
<text x="59.40" y="418.80" font-size="8.1" text-anchor="start" fill="#111">shSt3gal3 #1</text>
<text x="59.40" y="427.60" font-size="8.1" text-anchor="start" fill="#111">+Mø depletion</text>
<path d="M113.4 377.2H115.2V389.4H113.4" fill="none" stroke="#111" stroke-width="1"/>
<text x="116.80" y="385.60" font-size="8.15" text-anchor="start" fill="#111"><tspan font-style="italic">P</tspan> &lt; 0.001</text>
<path d="M113.4 403.8H115.2V416.2H113.4" fill="none" stroke="#111" stroke-width="1"/>
<text x="116.80" y="412.00" font-size="8.15" text-anchor="start" fill="#111"><tspan font-style="italic">P</tspan> &lt; 0.001</text>
<line x1="193.80" y1="381.05" x2="193.80" y2="495.80" stroke="#111" stroke-width="1.3"/>
<line x1="190.30" y1="495.20" x2="193.80" y2="495.20" stroke="#111" stroke-width="1.3"/>
<text x="188.50" y="498.10" font-size="8.15" text-anchor="end" fill="#111">0</text>
<line x1="190.30" y1="457.35" x2="193.80" y2="457.35" stroke="#111" stroke-width="1.3"/>
<text x="188.50" y="460.25" font-size="8.15" text-anchor="end" fill="#111">300</text>
<line x1="190.30" y1="419.50" x2="193.80" y2="419.50" stroke="#111" stroke-width="1.3"/>
<text x="188.50" y="422.40" font-size="8.15" text-anchor="end" fill="#111">600</text>
<line x1="190.30" y1="381.65" x2="193.80" y2="381.65" stroke="#111" stroke-width="1.3"/>
<text x="188.50" y="384.55" font-size="8.15" text-anchor="end" fill="#111">900</text>
<line x1="193.20" y1="495.20" x2="265.00" y2="495.20" stroke="#111" stroke-width="1.3"/>
<line x1="205.00" y1="495.20" x2="205.00" y2="498.40" stroke="#111" stroke-width="1.3"/>
<line x1="221.70" y1="495.20" x2="221.70" y2="498.40" stroke="#111" stroke-width="1.3"/>
<line x1="238.40" y1="495.20" x2="238.40" y2="498.40" stroke="#111" stroke-width="1.3"/>
<line x1="255.00" y1="495.20" x2="255.00" y2="498.40" stroke="#111" stroke-width="1.3"/>
<rect x="199.40" y="428.00" width="11.20" height="66.70" fill="#A6A6A6"/>
<rect x="216.10" y="448.80" width="11.20" height="45.90" fill="#A6A6A6"/>
<rect x="232.80" y="459.30" width="11.20" height="35.40" fill="#A6A6A6"/>
<rect x="249.40" y="414.50" width="11.20" height="80.20" fill="#A6A6A6"/>
<line x1="205.00" y1="418.00" x2="205.00" y2="439.60" stroke="#111" stroke-width="1.2"/>
<line x1="202.00" y1="418.00" x2="208.00" y2="418.00" stroke="#111" stroke-width="1.2"/>
<line x1="202.00" y1="439.60" x2="208.00" y2="439.60" stroke="#111" stroke-width="1.2"/>
<line x1="221.70" y1="438.80" x2="221.70" y2="459.60" stroke="#111" stroke-width="1.2"/>
<line x1="218.70" y1="438.80" x2="224.70" y2="438.80" stroke="#111" stroke-width="1.2"/>
<line x1="218.70" y1="459.60" x2="224.70" y2="459.60" stroke="#111" stroke-width="1.2"/>
<line x1="238.40" y1="453.80" x2="238.40" y2="465.80" stroke="#111" stroke-width="1.2"/>
<line x1="235.40" y1="453.80" x2="241.40" y2="453.80" stroke="#111" stroke-width="1.2"/>
<line x1="235.40" y1="465.80" x2="241.40" y2="465.80" stroke="#111" stroke-width="1.2"/>
<line x1="254.80" y1="408.00" x2="254.80" y2="422.00" stroke="#111" stroke-width="1.2"/>
<line x1="251.80" y1="408.00" x2="257.80" y2="408.00" stroke="#111" stroke-width="1.2"/>
<line x1="251.80" y1="422.00" x2="257.80" y2="422.00" stroke="#111" stroke-width="1.2"/>
<circle cx="205.00" cy="416.20" r="1.7" fill="none" stroke="#E8472E" stroke-width="1.0"/>
<circle cx="205.00" cy="420.00" r="1.7" fill="none" stroke="#E8472E" stroke-width="1.0"/>
<circle cx="205.00" cy="428.00" r="1.7" fill="none" stroke="#E8472E" stroke-width="1.0"/>
<circle cx="205.00" cy="432.80" r="1.7" fill="none" stroke="#E8472E" stroke-width="1.0"/>
<circle cx="205.00" cy="444.40" r="1.7" fill="none" stroke="#E8472E" stroke-width="1.0"/>
<circle cx="221.60" cy="435.60" r="1.7" fill="none" stroke="#2C6EB9" stroke-width="1.0"/>
<circle cx="221.60" cy="439.20" r="1.7" fill="none" stroke="#2C6EB9" stroke-width="1.0"/>
<circle cx="221.60" cy="448.80" r="1.7" fill="none" stroke="#2C6EB9" stroke-width="1.0"/>
<circle cx="218.00" cy="459.40" r="1.7" fill="none" stroke="#2C6EB9" stroke-width="1.0"/>
<circle cx="225.60" cy="458.80" r="1.7" fill="none" stroke="#2C6EB9" stroke-width="1.0"/>
<circle cx="234.40" cy="452.20" r="1.7" fill="none" stroke="#4AB5D6" stroke-width="1.0"/>
<circle cx="238.50" cy="454.40" r="1.7" fill="none" stroke="#4AB5D6" stroke-width="1.0"/>
<circle cx="238.50" cy="459.60" r="1.7" fill="none" stroke="#4AB5D6" stroke-width="1.0"/>
<circle cx="235.40" cy="465.40" r="1.7" fill="none" stroke="#4AB5D6" stroke-width="1.0"/>
<circle cx="242.20" cy="465.80" r="1.7" fill="none" stroke="#4AB5D6" stroke-width="1.0"/>
<circle cx="254.70" cy="405.40" r="1.7" fill="none" stroke="#11A59B" stroke-width="1.0"/>
<circle cx="254.70" cy="408.60" r="1.7" fill="none" stroke="#11A59B" stroke-width="1.0"/>
<circle cx="254.70" cy="413.60" r="1.7" fill="none" stroke="#11A59B" stroke-width="1.0"/>
<circle cx="250.80" cy="422.20" r="1.7" fill="none" stroke="#11A59B" stroke-width="1.0"/>
<circle cx="259.00" cy="420.40" r="1.7" fill="none" stroke="#11A59B" stroke-width="1.0"/>
<path d="M204.50 388.80V387.60H235.60V388.80" fill="none" stroke="#111" stroke-width="1"/>
<text x="202.00" y="384.60" font-size="7.9" text-anchor="start" fill="#111"><tspan font-style="italic">P</tspan> &lt; 0.001</text>
<path d="M240.00 388.80V387.60H255.20V388.80" fill="none" stroke="#111" stroke-width="1"/>
<text x="240.00" y="384.60" font-size="7.9" text-anchor="start" fill="#111"><tspan font-style="italic">P</tspan> &lt; 0.001</text>
<path d="M204.50 400.80V399.60H222.00V400.80" fill="none" stroke="#111" stroke-width="1"/>
<text x="200.80" y="396.60" font-size="7.9" text-anchor="start" fill="#111"><tspan font-style="italic">P</tspan> = 0.012</text>
<text x="169.30" y="431.60" font-size="8.15" text-anchor="middle" fill="#111" transform="rotate(-90 169.30 431.60)">Tumor weight (mg)</text>
<text x="201.40" y="516.30" font-size="8.15" text-anchor="end" fill="#111">shControl</text>
<line x1="203.50" y1="514.30" x2="207.30" y2="514.30" stroke="#111" stroke-width="0.95"/>
<line x1="205.40" y1="512.40" x2="205.40" y2="516.20" stroke="#111" stroke-width="0.95"/>
<line x1="219.80" y1="514.30" x2="223.60" y2="514.30" stroke="#111" stroke-width="0.95"/>
<line x1="221.70" y1="512.40" x2="221.70" y2="516.20" stroke="#111" stroke-width="0.95"/>
<line x1="236.30" y1="514.30" x2="240.10" y2="514.30" stroke="#111" stroke-width="0.95"/>
<line x1="252.70" y1="514.30" x2="256.50" y2="514.30" stroke="#111" stroke-width="0.95"/>
<text x="198.80" y="529.50" font-size="8.15" text-anchor="end" fill="#111">shSt3gal3 #1</text>
<line x1="203.50" y1="527.20" x2="207.30" y2="527.20" stroke="#111" stroke-width="0.95"/>
<line x1="219.80" y1="527.20" x2="223.60" y2="527.20" stroke="#111" stroke-width="0.95"/>
<line x1="236.30" y1="527.20" x2="240.10" y2="527.20" stroke="#111" stroke-width="0.95"/>
<line x1="238.20" y1="525.30" x2="238.20" y2="529.10" stroke="#111" stroke-width="0.95"/>
<line x1="252.70" y1="527.20" x2="256.50" y2="527.20" stroke="#111" stroke-width="0.95"/>
<line x1="254.60" y1="525.30" x2="254.60" y2="529.10" stroke="#111" stroke-width="0.95"/>
<text x="201.40" y="543.00" font-size="8.15" text-anchor="end" fill="#111">Mø depletion</text>
<line x1="203.50" y1="540.80" x2="207.30" y2="540.80" stroke="#111" stroke-width="0.95"/>
<line x1="219.80" y1="540.80" x2="223.60" y2="540.80" stroke="#111" stroke-width="0.95"/>
<line x1="221.70" y1="538.90" x2="221.70" y2="542.70" stroke="#111" stroke-width="0.95"/>
<line x1="236.30" y1="540.80" x2="240.10" y2="540.80" stroke="#111" stroke-width="0.95"/>
<line x1="252.70" y1="540.80" x2="256.50" y2="540.80" stroke="#111" stroke-width="0.95"/>
<line x1="254.60" y1="538.90" x2="254.60" y2="542.70" stroke="#111" stroke-width="0.95"/>
<!-- Panel G -->
<text x="292.00" y="378.60" font-size="13.2" text-anchor="start" font-weight="700" fill="#000">G</text>
<line x1="335.00" y1="393.15" x2="335.00" y2="495.60" stroke="#111" stroke-width="1.3"/>
<line x1="331.50" y1="495.00" x2="335.00" y2="495.00" stroke="#111" stroke-width="1.3"/>
<text x="329.70" y="497.90" font-size="8.15" text-anchor="end" fill="#111">0</text>
<line x1="331.50" y1="461.25" x2="335.00" y2="461.25" stroke="#111" stroke-width="1.3"/>
<text x="329.70" y="464.15" font-size="8.15" text-anchor="end" fill="#111">1</text>
<line x1="331.50" y1="427.50" x2="335.00" y2="427.50" stroke="#111" stroke-width="1.3"/>
<text x="329.70" y="430.40" font-size="8.15" text-anchor="end" fill="#111">2</text>
<line x1="331.50" y1="393.75" x2="335.00" y2="393.75" stroke="#111" stroke-width="1.3"/>
<text x="329.70" y="396.65" font-size="8.15" text-anchor="end" fill="#111">3</text>
<line x1="334.40" y1="495.00" x2="394.00" y2="495.00" stroke="#111" stroke-width="1.3"/>
<line x1="348.00" y1="495.00" x2="348.00" y2="498.20" stroke="#111" stroke-width="1.3"/>
<line x1="365.80" y1="495.00" x2="365.80" y2="498.20" stroke="#111" stroke-width="1.3"/>
<line x1="383.30" y1="495.00" x2="383.30" y2="498.20" stroke="#111" stroke-width="1.3"/>
<rect x="342.20" y="421.30" width="11.60" height="73.20" fill="#E8472E"/>
<rect x="360.00" y="414.30" width="11.60" height="80.20" fill="#2C6EB9"/>
<rect x="377.50" y="417.00" width="11.60" height="77.50" fill="#4AB5D6"/>
<line x1="348.00" y1="414.00" x2="348.00" y2="427.60" stroke="#111" stroke-width="1.2"/>
<line x1="345.20" y1="414.00" x2="350.80" y2="414.00" stroke="#111" stroke-width="1.2"/>
<line x1="345.20" y1="427.60" x2="350.80" y2="427.60" stroke="#111" stroke-width="1.2"/>
<line x1="365.80" y1="406.40" x2="365.80" y2="419.00" stroke="#111" stroke-width="1.2"/>
<line x1="363.00" y1="406.40" x2="368.60" y2="406.40" stroke="#111" stroke-width="1.2"/>
<line x1="363.00" y1="419.00" x2="368.60" y2="419.00" stroke="#111" stroke-width="1.2"/>
<line x1="383.30" y1="412.00" x2="383.30" y2="421.60" stroke="#111" stroke-width="1.2"/>
<line x1="380.50" y1="412.00" x2="386.10" y2="412.00" stroke="#111" stroke-width="1.2"/>
<line x1="380.50" y1="421.60" x2="386.10" y2="421.60" stroke="#111" stroke-width="1.2"/>
<circle cx="348.00" cy="414.00" r="1.75" fill="#111"/>
<circle cx="348.00" cy="421.60" r="1.75" fill="#111"/>
<circle cx="348.00" cy="427.60" r="1.75" fill="#111"/>
<circle cx="365.80" cy="406.40" r="1.75" fill="#111"/>
<circle cx="369.60" cy="416.00" r="1.75" fill="#111"/>
<circle cx="365.80" cy="418.60" r="1.75" fill="#111"/>
<circle cx="383.30" cy="412.00" r="1.75" fill="#111"/>
<circle cx="383.30" cy="417.40" r="1.75" fill="#111"/>
<circle cx="383.30" cy="421.40" r="1.75" fill="#111"/>
<path d="M347.60 396.40V395.20H383.80V396.40" fill="none" stroke="#111" stroke-width="1"/>
<text x="360.60" y="393.00" font-size="7.9" text-anchor="start" fill="#111">n.s.</text>
<path d="M347.60 404.40V403.20H366.20V404.40" fill="none" stroke="#111" stroke-width="1"/>
<text x="351.40" y="401.20" font-size="7.9" text-anchor="start" fill="#111">n.s.</text>
<text x="321.20" y="438.40" font-size="8.15" text-anchor="middle" fill="#111" transform="rotate(-90 321.20 438.40)">Number of migrated CD8<tspan dy="-3.3" font-size="7.0">+</tspan><tspan dy="3.3" font-size="7.0">&#8203;</tspan> T (×10<tspan dy="-3.2" font-size="6.2">4</tspan><tspan dy="3.2" font-size="6.2">&#8203;</tspan>)</text>
<text x="273.70" y="511.30" font-size="8.35" text-anchor="start" fill="#111">HM1-shControl</text>
<text x="273.70" y="519.70" font-size="8.35" text-anchor="start" fill="#111">HM1-shSt3gal3 #1</text>
<text x="273.70" y="528.50" font-size="8.35" text-anchor="start" fill="#111">HM1-shSt3gal3 #2</text>
<text x="273.70" y="537.70" font-size="8.35" text-anchor="start" fill="#111">NeNa</text>
<text x="273.70" y="547.00" font-size="8.35" text-anchor="start" fill="#111">BMDM</text>
<line x1="346.20" y1="509.00" x2="349.80" y2="509.00" stroke="#111" stroke-width="0.95"/>
<line x1="348.00" y1="507.20" x2="348.00" y2="510.80" stroke="#111" stroke-width="0.95"/>
<line x1="364.00" y1="509.00" x2="367.60" y2="509.00" stroke="#111" stroke-width="0.95"/>
<line x1="381.50" y1="509.00" x2="385.10" y2="509.00" stroke="#111" stroke-width="0.95"/>
<line x1="346.20" y1="517.30" x2="349.80" y2="517.30" stroke="#111" stroke-width="0.95"/>
<line x1="364.00" y1="517.30" x2="367.60" y2="517.30" stroke="#111" stroke-width="0.95"/>
<line x1="365.80" y1="515.50" x2="365.80" y2="519.10" stroke="#111" stroke-width="0.95"/>
<line x1="381.50" y1="517.30" x2="385.10" y2="517.30" stroke="#111" stroke-width="0.95"/>
<line x1="346.20" y1="526.30" x2="349.80" y2="526.30" stroke="#111" stroke-width="0.95"/>
<line x1="364.00" y1="526.30" x2="367.60" y2="526.30" stroke="#111" stroke-width="0.95"/>
<line x1="381.50" y1="526.30" x2="385.10" y2="526.30" stroke="#111" stroke-width="0.95"/>
<line x1="383.30" y1="524.50" x2="383.30" y2="528.10" stroke="#111" stroke-width="0.95"/>
<line x1="346.20" y1="535.70" x2="349.80" y2="535.70" stroke="#111" stroke-width="0.95"/>
<line x1="364.00" y1="535.70" x2="367.60" y2="535.70" stroke="#111" stroke-width="0.95"/>
<line x1="381.50" y1="535.70" x2="385.10" y2="535.70" stroke="#111" stroke-width="0.95"/>
<line x1="346.20" y1="545.90" x2="349.80" y2="545.90" stroke="#111" stroke-width="0.95"/>
<line x1="364.00" y1="545.90" x2="367.60" y2="545.90" stroke="#111" stroke-width="0.95"/>
<line x1="381.50" y1="545.90" x2="385.10" y2="545.90" stroke="#111" stroke-width="0.95"/>
<line x1="434.50" y1="393.90" x2="434.50" y2="495.60" stroke="#111" stroke-width="1.3"/>
<line x1="431.00" y1="495.00" x2="434.50" y2="495.00" stroke="#111" stroke-width="1.3"/>
<text x="429.20" y="497.90" font-size="8.15" text-anchor="end" fill="#111">0</text>
<line x1="431.00" y1="474.90" x2="434.50" y2="474.90" stroke="#111" stroke-width="1.3"/>
<text x="429.20" y="477.80" font-size="8.15" text-anchor="end" fill="#111">2</text>
<line x1="431.00" y1="454.80" x2="434.50" y2="454.80" stroke="#111" stroke-width="1.3"/>
<text x="429.20" y="457.70" font-size="8.15" text-anchor="end" fill="#111">4</text>
<line x1="431.00" y1="434.70" x2="434.50" y2="434.70" stroke="#111" stroke-width="1.3"/>
<text x="429.20" y="437.60" font-size="8.15" text-anchor="end" fill="#111">6</text>
<line x1="431.00" y1="414.60" x2="434.50" y2="414.60" stroke="#111" stroke-width="1.3"/>
<text x="429.20" y="417.50" font-size="8.15" text-anchor="end" fill="#111">8</text>
<line x1="431.00" y1="394.50" x2="434.50" y2="394.50" stroke="#111" stroke-width="1.3"/>
<text x="429.20" y="397.40" font-size="8.15" text-anchor="end" fill="#111">10</text>
<line x1="433.90" y1="495.00" x2="516.00" y2="495.00" stroke="#111" stroke-width="1.3"/>
<line x1="448.80" y1="495.00" x2="448.80" y2="498.20" stroke="#111" stroke-width="1.3"/>
<line x1="467.70" y1="495.00" x2="467.70" y2="498.20" stroke="#111" stroke-width="1.3"/>
<line x1="486.60" y1="495.00" x2="486.60" y2="498.20" stroke="#111" stroke-width="1.3"/>
<line x1="505.60" y1="495.00" x2="505.60" y2="498.20" stroke="#111" stroke-width="1.3"/>
<rect x="442.90" y="451.30" width="11.80" height="43.20" fill="#E8472E"/>
<rect x="461.80" y="429.50" width="11.80" height="65.00" fill="#2C6EB9"/>
<rect x="480.70" y="439.50" width="11.80" height="55.00" fill="#4AB5D6"/>
<rect x="499.70" y="418.00" width="11.80" height="76.50" fill="#11A59B"/>
<line x1="448.80" y1="447.40" x2="448.80" y2="452.40" stroke="#111" stroke-width="1.2"/>
<line x1="446.00" y1="447.40" x2="451.60" y2="447.40" stroke="#111" stroke-width="1.2"/>
<line x1="446.00" y1="452.40" x2="451.60" y2="452.40" stroke="#111" stroke-width="1.2"/>
<line x1="467.70" y1="424.40" x2="467.70" y2="434.00" stroke="#111" stroke-width="1.2"/>
<line x1="464.90" y1="424.40" x2="470.50" y2="424.40" stroke="#111" stroke-width="1.2"/>
<line x1="464.90" y1="434.00" x2="470.50" y2="434.00" stroke="#111" stroke-width="1.2"/>
<line x1="486.60" y1="436.40" x2="486.60" y2="441.00" stroke="#111" stroke-width="1.2"/>
<line x1="483.80" y1="436.40" x2="489.40" y2="436.40" stroke="#111" stroke-width="1.2"/>
<line x1="483.80" y1="441.00" x2="489.40" y2="441.00" stroke="#111" stroke-width="1.2"/>
<line x1="505.60" y1="412.60" x2="505.60" y2="423.00" stroke="#111" stroke-width="1.2"/>
<line x1="502.80" y1="412.60" x2="508.40" y2="412.60" stroke="#111" stroke-width="1.2"/>
<line x1="502.80" y1="423.00" x2="508.40" y2="423.00" stroke="#111" stroke-width="1.2"/>
<circle cx="448.80" cy="447.40" r="1.75" fill="#111"/>
<circle cx="445.20" cy="451.40" r="1.75" fill="#111"/>
<circle cx="452.80" cy="450.00" r="1.75" fill="#111"/>
<circle cx="467.70" cy="425.00" r="1.75" fill="#111"/>
<circle cx="472.00" cy="424.60" r="1.75" fill="#111"/>
<circle cx="467.70" cy="433.60" r="1.75" fill="#111"/>
<circle cx="486.60" cy="436.60" r="1.75" fill="#111"/>
<circle cx="482.60" cy="441.00" r="1.75" fill="#111"/>
<circle cx="491.40" cy="438.60" r="1.75" fill="#111"/>
<circle cx="505.60" cy="412.60" r="1.75" fill="#111"/>
<circle cx="505.60" cy="417.60" r="1.75" fill="#111"/>
<circle cx="505.60" cy="422.60" r="1.75" fill="#111"/>
<path d="M449.20 396.40V395.20H505.80V396.40" fill="none" stroke="#111" stroke-width="1"/>
<text x="462.00" y="393.00" font-size="7.9" text-anchor="start" fill="#111"><tspan font-style="italic">P</tspan> &lt; 0.001</text>
<path d="M449.20 404.50V403.30H487.00V404.50" fill="none" stroke="#111" stroke-width="1"/>
<text x="452.00" y="401.50" font-size="7.9" text-anchor="start" fill="#111"><tspan font-style="italic">P</tspan> = 0.023</text>
<path d="M449.20 414.40V413.20H468.20V414.40" fill="none" stroke="#111" stroke-width="1"/>
<text x="442.50" y="411.40" font-size="7.9" text-anchor="start" fill="#111"><tspan font-style="italic">P</tspan> = 0.001</text>
<text x="417.20" y="440.40" font-size="8.15" text-anchor="middle" fill="#111" transform="rotate(-90 417.20 440.40)">Number of migrated CD8<tspan dy="-3.3" font-size="7.0">+</tspan><tspan dy="3.3" font-size="7.0">&#8203;</tspan> T (×10<tspan dy="-3.2" font-size="6.2">4</tspan><tspan dy="3.2" font-size="6.2">&#8203;</tspan>)</text>
<line x1="447.00" y1="509.00" x2="450.60" y2="509.00" stroke="#111" stroke-width="0.95"/>
<line x1="448.80" y1="507.20" x2="448.80" y2="510.80" stroke="#111" stroke-width="0.95"/>
<line x1="465.90" y1="509.00" x2="469.50" y2="509.00" stroke="#111" stroke-width="0.95"/>
<line x1="484.80" y1="509.00" x2="488.40" y2="509.00" stroke="#111" stroke-width="0.95"/>
<line x1="503.80" y1="509.00" x2="507.40" y2="509.00" stroke="#111" stroke-width="0.95"/>
<line x1="505.60" y1="507.20" x2="505.60" y2="510.80" stroke="#111" stroke-width="0.95"/>
<line x1="447.00" y1="517.30" x2="450.60" y2="517.30" stroke="#111" stroke-width="0.95"/>
<line x1="465.90" y1="517.30" x2="469.50" y2="517.30" stroke="#111" stroke-width="0.95"/>
<line x1="467.70" y1="515.50" x2="467.70" y2="519.10" stroke="#111" stroke-width="0.95"/>
<line x1="484.80" y1="517.30" x2="488.40" y2="517.30" stroke="#111" stroke-width="0.95"/>
<line x1="503.80" y1="517.30" x2="507.40" y2="517.30" stroke="#111" stroke-width="0.95"/>
<line x1="447.00" y1="526.30" x2="450.60" y2="526.30" stroke="#111" stroke-width="0.95"/>
<line x1="465.90" y1="526.30" x2="469.50" y2="526.30" stroke="#111" stroke-width="0.95"/>
<line x1="484.80" y1="526.30" x2="488.40" y2="526.30" stroke="#111" stroke-width="0.95"/>
<line x1="486.60" y1="524.50" x2="486.60" y2="528.10" stroke="#111" stroke-width="0.95"/>
<line x1="503.80" y1="526.30" x2="507.40" y2="526.30" stroke="#111" stroke-width="0.95"/>
<line x1="447.00" y1="535.70" x2="450.60" y2="535.70" stroke="#111" stroke-width="0.95"/>
<line x1="465.90" y1="535.70" x2="469.50" y2="535.70" stroke="#111" stroke-width="0.95"/>
<line x1="484.80" y1="535.70" x2="488.40" y2="535.70" stroke="#111" stroke-width="0.95"/>
<line x1="503.80" y1="535.70" x2="507.40" y2="535.70" stroke="#111" stroke-width="0.95"/>
<line x1="505.60" y1="533.90" x2="505.60" y2="537.50" stroke="#111" stroke-width="0.95"/>
<line x1="447.00" y1="545.90" x2="450.60" y2="545.90" stroke="#111" stroke-width="0.95"/>
<line x1="448.80" y1="544.10" x2="448.80" y2="547.70" stroke="#111" stroke-width="0.95"/>
<line x1="465.90" y1="545.90" x2="469.50" y2="545.90" stroke="#111" stroke-width="0.95"/>
<line x1="467.70" y1="544.10" x2="467.70" y2="547.70" stroke="#111" stroke-width="0.95"/>
<line x1="484.80" y1="545.90" x2="488.40" y2="545.90" stroke="#111" stroke-width="0.95"/>
<line x1="486.60" y1="544.10" x2="486.60" y2="547.70" stroke="#111" stroke-width="0.95"/>
<line x1="503.80" y1="545.90" x2="507.40" y2="545.90" stroke="#111" stroke-width="0.95"/>
<line x1="505.60" y1="544.10" x2="505.60" y2="547.70" stroke="#111" stroke-width="0.95"/>
<!-- Panel H -->
<text x="6.50" y="560.80" font-size="13.2" text-anchor="start" font-weight="700" fill="#000">H</text>
<line x1="38.80" y1="567.00" x2="38.80" y2="681.40" stroke="#111" stroke-width="1.3"/>
<line x1="35.30" y1="680.80" x2="38.80" y2="680.80" stroke="#111" stroke-width="1.3"/>
<text x="33.50" y="683.70" font-size="8.15" text-anchor="end" fill="#111">0</text>
<line x1="35.30" y1="652.50" x2="38.80" y2="652.50" stroke="#111" stroke-width="1.3"/>
<text x="33.50" y="655.40" font-size="8.15" text-anchor="end" fill="#111">250</text>
<line x1="35.30" y1="624.20" x2="38.80" y2="624.20" stroke="#111" stroke-width="1.3"/>
<text x="33.50" y="627.10" font-size="8.15" text-anchor="end" fill="#111">500</text>
<line x1="35.30" y1="595.90" x2="38.80" y2="595.90" stroke="#111" stroke-width="1.3"/>
<text x="33.50" y="598.80" font-size="8.15" text-anchor="end" fill="#111">750</text>
<line x1="35.30" y1="567.60" x2="38.80" y2="567.60" stroke="#111" stroke-width="1.3"/>
<text x="33.50" y="570.50" font-size="8.15" text-anchor="end" fill="#111">1,000</text>
<line x1="38.20" y1="680.80" x2="153.00" y2="680.80" stroke="#111" stroke-width="1.3"/>
<line x1="38.80" y1="680.80" x2="38.80" y2="684.00" stroke="#111" stroke-width="1.3"/>
<line x1="73.53" y1="680.80" x2="73.53" y2="684.00" stroke="#111" stroke-width="1.3"/>
<line x1="108.27" y1="680.80" x2="108.27" y2="684.00" stroke="#111" stroke-width="1.3"/>
<line x1="143.00" y1="680.80" x2="143.00" y2="684.00" stroke="#111" stroke-width="1.3"/>
<text x="38.80" y="690.60" font-size="8.15" text-anchor="middle" fill="#111">0</text>
<text x="73.53" y="690.60" font-size="8.15" text-anchor="middle" fill="#111">7</text>
<text x="108.27" y="690.60" font-size="8.15" text-anchor="middle" fill="#111">14</text>
<text x="143.00" y="690.60" font-size="8.15" text-anchor="middle" fill="#111">21</text>
<text x="89.40" y="702.60" font-size="8.15" text-anchor="middle" fill="#111">Time (d)</text>
<text x="10.40" y="625.60" font-size="8.15" text-anchor="middle" fill="#111" transform="rotate(-90 10.40 625.60)">Tumor volume (mm<tspan dy="-2.6" font-size="5">3</tspan><tspan dy="2.6" font-size="5">&#8203;</tspan>)</text>
<polyline points="38.80,680.80 41.28,680.38 43.76,679.81 46.24,679.09 48.72,678.25 51.20,677.32 53.69,676.31 56.17,675.24 58.65,673.96 61.13,672.38 63.61,670.58 66.09,668.66 68.57,666.72 71.05,664.85 73.53,663.15 76.01,661.69 78.50,660.41 80.98,659.20 83.46,657.96 85.94,656.56 88.42,654.90 90.90,652.87 93.38,649.74 95.86,645.22 98.34,639.78 100.82,633.92 103.31,628.14 105.79,622.92 108.27,618.78 110.75,615.47 113.23,612.44 115.71,609.64 118.19,607.03 120.67,604.59 123.15,602.28 125.63,600.05 128.12,597.89 130.60,595.81 133.08,593.83 135.56,591.95 138.04,590.18 140.52,588.53 143.00,587.00" fill="none" stroke="#DD3B28" stroke-width="1.1" stroke-dasharray="2.1 1.3"/>
<polyline points="38.80,680.80 41.28,680.43 43.76,679.92 46.24,679.29 48.72,678.57 51.20,677.77 53.69,676.90 56.17,675.98 58.65,674.91 61.13,673.62 63.61,672.16 66.09,670.59 68.57,668.96 71.05,667.33 73.53,665.74 76.01,664.26 78.50,662.85 80.98,661.43 83.46,659.95 85.94,658.31 88.42,656.46 90.90,654.32 93.38,651.53 95.86,647.94 98.34,643.80 100.82,639.35 103.31,634.84 105.79,630.52 108.27,626.63 110.75,623.00 113.23,619.32 115.71,615.70 118.19,612.23 120.67,609.00 123.15,606.11 125.63,603.63 128.12,601.44 130.60,599.37 133.08,597.44 135.56,595.69 138.04,594.14 140.52,592.84 143.00,591.80" fill="none" stroke="#DD3B28" stroke-width="1.1" stroke-dasharray="2.1 1.3"/>
<polyline points="38.80,680.80 41.28,680.34 43.76,679.76 46.24,679.07 48.72,678.28 51.20,677.41 53.69,676.47 56.17,675.48 58.65,674.39 61.13,673.14 63.61,671.74 66.09,670.22 68.57,668.57 71.05,666.82 73.53,664.98 76.01,662.96 78.50,660.71 80.98,658.27 83.46,655.66 85.94,652.94 88.42,650.13 90.90,647.27 93.38,644.23 95.86,640.91 98.34,637.42 100.82,633.89 103.31,630.43 105.79,627.15 108.27,624.18 110.75,621.44 113.23,618.80 115.71,616.27 118.19,613.85 120.67,611.55 123.15,609.38 125.63,607.35 128.12,605.43 130.60,603.58 133.08,601.82 135.56,600.15 138.04,598.59 140.52,597.13 143.00,595.80" fill="none" stroke="#DD3B28" stroke-width="1.1" stroke-dasharray="2.1 1.3"/>
<polyline points="38.80,680.80 41.28,679.62 43.76,678.47 46.24,677.36 48.72,676.30 51.20,675.29 53.69,674.33 56.17,673.42 58.65,672.61 61.13,671.90 63.61,671.24 66.09,670.59 68.57,669.88 71.05,669.08 73.53,668.12 76.01,666.96 78.50,665.59 80.98,664.04 83.46,662.29 85.94,660.37 88.42,658.28 90.90,656.04 93.38,653.34 95.86,650.03 98.34,646.31 100.82,642.37 103.31,638.41 105.79,634.64 108.27,631.24 110.75,628.11 113.23,625.00 115.71,621.97 118.19,619.06 120.67,616.32 123.15,613.81 125.63,611.55 128.12,609.49 130.60,607.53 133.08,605.68 135.56,603.97 138.04,602.41 140.52,601.01 143.00,599.80" fill="none" stroke="#DD3B28" stroke-width="1.1" stroke-dasharray="2.1 1.3"/>
<polyline points="38.80,680.80 41.28,680.07 43.76,679.29 46.24,678.47 48.72,677.59 51.20,676.68 53.69,675.73 56.17,674.74 58.65,673.71 61.13,672.62 63.61,671.47 66.09,670.27 68.57,669.02 71.05,667.73 73.53,666.39 76.01,665.05 78.50,663.71 80.98,662.32 83.46,660.84 85.94,659.21 88.42,657.39 90.90,655.32 93.38,652.58 95.86,649.00 98.34,644.90 100.82,640.60 103.31,636.43 105.79,632.71 108.27,629.78 110.75,627.50 113.23,625.50 115.71,623.71 118.19,622.03 120.67,620.40 123.15,618.73 125.63,616.96 128.12,615.10 130.60,613.24 133.08,611.36 135.56,609.48 138.04,607.60 140.52,605.70 143.00,603.80" fill="none" stroke="#DD3B28" stroke-width="1.1" stroke-dasharray="2.1 1.3"/>
<polyline points="38.80,680.80 41.28,679.94 43.76,679.07 46.24,678.20 48.72,677.33 51.20,676.45 53.69,675.57 56.17,674.68 58.65,673.82 61.13,673.00 63.61,672.19 66.09,671.35 68.57,670.46 71.05,669.48 73.53,668.39 76.01,667.17 78.50,665.85 80.98,664.39 83.46,662.79 85.94,661.02 88.42,659.07 90.90,656.92 93.38,654.19 95.86,650.71 98.34,646.76 100.82,642.60 103.31,638.52 105.79,634.79 108.27,631.70 110.75,629.11 113.23,626.68 115.71,624.42 118.19,622.30 120.67,620.33 123.15,618.48 125.63,616.76 128.12,615.13 130.60,613.57 133.08,612.09 135.56,610.70 138.04,609.42 140.52,608.25 143.00,607.20" fill="none" stroke="#DD3B28" stroke-width="1.1" stroke-dasharray="2.1 1.3"/>
<polyline points="38.80,680.80 41.28,679.89 43.76,679.01 46.24,678.14 48.72,677.30 51.20,676.49 53.69,675.69 56.17,674.92 58.65,674.23 61.13,673.62 63.61,673.04 66.09,672.46 68.57,671.81 71.05,671.04 73.53,670.12 76.01,668.89 78.50,667.28 80.98,665.37 83.46,663.23 85.94,660.92 88.42,658.51 90.90,656.07 93.38,653.44 95.86,650.48 98.34,647.29 100.82,644.00 103.31,640.71 105.79,637.54 108.27,634.60 110.75,631.73 113.23,628.76 115.71,625.81 118.19,623.01 120.67,620.50 123.15,618.38 125.63,616.79 128.12,615.52 130.60,614.30 133.08,613.19 135.56,612.23 138.04,611.48 140.52,610.98 143.00,610.80" fill="none" stroke="#DD3B28" stroke-width="1.1" stroke-dasharray="2.1 1.3"/>
<polyline points="38.80,680.80 41.28,679.66 43.76,678.58 46.24,677.57 48.72,676.63 51.20,675.78 53.69,675.03 56.17,674.39 58.65,673.88 61.13,673.48 63.61,673.15 66.09,672.83 68.57,672.46 71.05,672.00 73.53,671.40 76.01,670.47 78.50,669.10 80.98,667.38 83.46,665.39 85.94,663.19 88.42,660.87 90.90,658.49 93.38,655.70 95.86,652.26 98.34,648.45 100.82,644.56 103.31,640.86 105.79,637.63 108.27,635.16 110.75,633.31 113.23,631.73 115.71,630.33 118.19,629.05 120.67,627.81 123.15,626.52 125.63,625.13 128.12,623.64 130.60,622.13 133.08,620.62 135.56,619.08 138.04,617.54 140.52,615.98 143.00,614.40" fill="none" stroke="#DD3B28" stroke-width="1.1" stroke-dasharray="2.1 1.3"/>
<polyline points="38.80,680.80 41.28,680.18 43.76,679.51 46.24,678.80 48.72,678.05 51.20,677.26 53.69,676.44 56.17,675.58 58.65,674.68 61.13,673.73 63.61,672.73 66.09,671.68 68.57,670.59 71.05,669.45 73.53,668.28 76.01,667.09 78.50,665.91 80.98,664.68 83.46,663.36 85.94,661.92 88.42,660.30 90.90,658.49 93.38,656.08 95.86,652.93 98.34,649.34 100.82,645.60 103.31,642.01 105.79,638.87 108.27,636.47 110.75,634.68 113.23,633.12 115.71,631.74 118.19,630.47 120.67,629.25 123.15,628.03 125.63,626.74 128.12,625.40 130.60,624.07 133.08,622.75 135.56,621.44 138.04,620.15 140.52,618.87 143.00,617.60" fill="none" stroke="#DD3B28" stroke-width="1.1" stroke-dasharray="2.1 1.3"/>
<polyline points="38.80,680.80 41.28,679.86 43.76,678.88 46.24,677.89 48.72,676.86 51.20,675.81 53.69,674.74 56.17,673.65 58.65,672.57 61.13,671.53 63.61,670.48 66.09,669.37 68.57,668.15 71.05,666.78 73.53,665.22 76.01,663.34 78.50,661.07 80.98,658.47 83.46,655.60 85.94,652.53 88.42,649.30 90.90,645.99 93.38,642.23 95.86,637.84 98.34,633.08 100.82,628.26 103.31,623.65 105.79,619.54 108.27,616.23 110.75,613.56 113.23,611.17 115.71,609.00 118.19,607.00 120.67,605.10 123.15,603.26 125.63,601.42 128.12,599.59 130.60,597.80 133.08,596.08 135.56,594.41 138.04,592.81 140.52,591.27 143.00,589.80" fill="none" stroke="#2A2021" stroke-width="1.1" stroke-dasharray="2.1 1.3"/>
<polyline points="38.80,680.80 41.28,679.90 43.76,678.97 46.24,678.00 48.72,677.00 51.20,675.97 53.69,674.91 56.17,673.82 58.65,672.74 61.13,671.66 63.61,670.57 66.09,669.41 68.57,668.15 71.05,666.76 73.53,665.21 76.01,663.38 78.50,661.23 80.98,658.83 83.46,656.21 85.94,653.44 88.42,650.57 90.90,647.65 93.38,644.44 95.86,640.79 98.34,636.91 100.82,633.00 103.31,629.26 105.79,625.90 108.27,623.11 110.75,620.82 113.23,618.77 115.71,616.91 118.19,615.17 120.67,613.49 123.15,611.80 125.63,610.05 128.12,608.25 130.60,606.47 133.08,604.70 135.56,602.95 138.04,601.22 140.52,599.50 143.00,597.80" fill="none" stroke="#2A2021" stroke-width="1.1" stroke-dasharray="2.1 1.3"/>
<polyline points="38.80,680.80 41.28,680.51 43.76,680.09 46.24,679.58 48.72,678.97 51.20,678.29 53.69,677.56 56.17,676.79 58.65,675.88 61.13,674.78 63.61,673.52 66.09,672.16 68.57,670.75 71.05,669.32 73.53,667.93 76.01,666.61 78.50,665.33 80.98,664.04 83.46,662.69 85.94,661.21 88.42,659.56 90.90,657.67 93.38,655.26 95.86,652.21 98.34,648.73 100.82,645.05 103.31,641.37 105.79,637.93 108.27,634.92 110.75,632.28 113.23,629.77 115.71,627.37 118.19,625.07 120.67,622.86 123.15,620.72 125.63,618.65 128.12,616.62 130.60,614.66 133.08,612.75 135.56,610.91 138.04,609.13 140.52,607.43 143.00,605.80" fill="none" stroke="#2A2021" stroke-width="1.1" stroke-dasharray="2.1 1.3"/>
<polyline points="38.80,680.80 41.28,680.34 43.76,679.83 46.24,679.25 48.72,678.64 51.20,677.97 53.69,677.27 56.17,676.54 58.65,675.77 61.13,674.96 63.61,674.10 66.09,673.15 68.57,672.12 71.05,670.98 73.53,669.71 76.01,668.18 78.50,666.29 80.98,664.15 83.46,661.85 85.94,659.48 88.42,657.15 90.90,654.94 93.38,652.84 95.86,650.78 98.34,648.72 100.82,646.64 103.31,644.53 105.79,642.36 108.27,640.10 110.75,637.65 113.23,634.96 115.71,632.16 118.19,629.39 120.67,626.78 123.15,624.45 125.63,622.53 128.12,620.90 130.60,619.35 133.08,617.92 135.56,616.62 138.04,615.48 140.52,614.53 143.00,613.80" fill="none" stroke="#2A2021" stroke-width="1.1" stroke-dasharray="2.1 1.3"/>
<polyline points="38.80,680.80 41.28,679.82 43.76,678.81 46.24,677.78 48.72,676.71 51.20,675.62 53.69,674.50 56.17,673.36 58.65,672.16 61.13,670.89 63.61,669.58 66.09,668.25 68.57,666.95 71.05,665.71 73.53,664.55 76.01,663.51 78.50,662.56 80.98,661.66 83.46,660.77 85.94,659.84 88.42,658.83 90.90,657.69 93.38,656.34 95.86,654.77 98.34,653.07 100.82,651.31 103.31,649.58 105.79,647.95 108.27,646.50 110.75,645.22 113.23,644.02 115.71,642.89 118.19,641.79 120.67,640.72 123.15,639.65 125.63,638.58 128.12,637.49 130.60,636.41 133.08,635.35 135.56,634.29 138.04,633.25 140.52,632.22 143.00,631.20" fill="none" stroke="#2F6DB6" stroke-width="1.1" stroke-dasharray="2.1 1.3"/>
<polyline points="38.80,680.80 41.28,680.18 43.76,679.53 46.24,678.85 48.72,678.14 51.20,677.40 53.69,676.63 56.17,675.84 58.65,675.03 61.13,674.20 63.61,673.33 66.09,672.43 68.57,671.48 71.05,670.47 73.53,669.40 76.01,668.22 78.50,666.92 80.98,665.53 83.46,664.08 85.94,662.61 88.42,661.15 90.90,659.73 93.38,658.33 95.86,656.91 98.34,655.49 100.82,654.07 103.31,652.67 105.79,651.30 108.27,649.97 110.75,648.66 113.23,647.35 115.71,646.06 118.19,644.79 120.67,643.58 123.15,642.42 125.63,641.33 128.12,640.30 130.60,639.31 133.08,638.36 135.56,637.45 138.04,636.58 140.52,635.77 143.00,635.00" fill="none" stroke="#2F6DB6" stroke-width="1.1" stroke-dasharray="2.1 1.3"/>
<polyline points="38.80,680.80 41.28,680.41 43.76,679.93 46.24,679.39 48.72,678.79 51.20,678.14 53.69,677.44 56.17,676.70 58.65,675.88 61.13,674.93 63.61,673.89 66.09,672.78 68.57,671.63 71.05,670.48 73.53,669.34 76.01,668.22 78.50,667.07 80.98,665.91 83.46,664.72 85.94,663.52 88.42,662.29 90.90,661.03 93.38,659.73 95.86,658.37 98.34,656.97 100.82,655.57 103.31,654.18 105.79,652.83 108.27,651.54 110.75,650.28 113.23,649.00 115.71,647.74 118.19,646.53 120.67,645.40 123.15,644.38 125.63,643.52 128.12,642.76 130.60,642.03 133.08,641.36 135.56,640.75 138.04,640.21 140.52,639.76 143.00,639.40" fill="none" stroke="#2F6DB6" stroke-width="1.1" stroke-dasharray="2.1 1.3"/>
<polyline points="38.80,680.80 41.28,680.13 43.76,679.44 46.24,678.73 48.72,677.99 51.20,677.22 53.69,676.44 56.17,675.64 58.65,674.78 61.13,673.87 63.61,672.92 66.09,671.97 68.57,671.02 71.05,670.12 73.53,669.29 76.01,668.55 78.50,667.90 80.98,667.29 83.46,666.67 85.94,666.01 88.42,665.25 90.90,664.35 93.38,663.12 95.86,661.52 98.34,659.68 100.82,657.76 103.31,655.90 105.79,654.25 108.27,652.97 110.75,651.97 113.23,651.08 115.71,650.27 118.19,649.53 120.67,648.84 123.15,648.16 125.63,647.48 128.12,646.80 130.60,646.14 133.08,645.51 135.56,644.89 138.04,644.30 140.52,643.74 143.00,643.20" fill="none" stroke="#2F6DB6" stroke-width="1.1" stroke-dasharray="2.1 1.3"/>
<polyline points="38.80,680.80 41.28,680.27 43.76,679.72 46.24,679.14 48.72,678.55 51.20,677.95 53.69,677.32 56.17,676.68 58.65,676.02 61.13,675.33 63.61,674.62 66.09,673.89 68.57,673.15 71.05,672.39 73.53,671.63 76.01,670.88 78.50,670.14 80.98,669.39 83.46,668.61 85.94,667.80 88.42,666.92 90.90,665.98 93.38,664.84 95.86,663.49 98.34,662.02 100.82,660.53 103.31,659.12 105.79,657.90 108.27,656.97 110.75,656.28 113.23,655.71 115.71,655.21 118.19,654.76 120.67,654.29 123.15,653.78 125.63,653.19 128.12,652.51 130.60,651.77 133.08,650.98 135.56,650.15 138.04,649.27 140.52,648.35 143.00,647.40" fill="none" stroke="#2F6DB6" stroke-width="1.1" stroke-dasharray="2.1 1.3"/>
<polyline points="38.80,680.80 41.28,680.09 43.76,679.35 46.24,678.59 48.72,677.81 51.20,677.00 53.69,676.18 56.17,675.34 58.65,674.48 61.13,673.61 63.61,672.71 66.09,671.79 68.57,670.83 71.05,669.83 73.53,668.79 76.01,667.67 78.50,666.47 80.98,665.21 83.46,663.92 85.94,662.61 88.42,661.32 90.90,660.05 93.38,658.79 95.86,657.52 98.34,656.23 100.82,654.96 103.31,653.72 105.79,652.53 108.27,651.40 110.75,650.33 113.23,649.29 115.71,648.29 118.19,647.32 120.67,646.38 123.15,645.46 125.63,644.55 128.12,643.67 130.60,642.81 133.08,641.96 135.56,641.14 138.04,640.34 140.52,639.56 143.00,638.80" fill="none" stroke="#2F6DB6" stroke-width="1.4"/>
<polyline points="38.80,680.80 41.28,680.07 43.76,679.30 46.24,678.49 48.72,677.64 51.20,676.76 53.69,675.84 56.17,674.89 58.65,673.92 61.13,672.92 63.61,671.88 66.09,670.79 68.57,669.62 71.05,668.37 73.53,667.01 76.01,665.53 78.50,663.92 80.98,662.17 83.46,660.27 85.94,658.22 88.42,656.00 90.90,653.61 93.38,650.79 95.86,647.39 98.34,643.63 100.82,639.72 103.31,635.84 105.79,632.21 108.27,629.03 110.75,626.17 113.23,623.40 115.71,620.75 118.19,618.24 120.67,615.90 123.15,613.76 125.63,611.85 128.12,610.10 130.60,608.43 133.08,606.87 135.56,605.43 138.04,604.12 140.52,602.98 143.00,602.00" fill="none" stroke="#DD3B28" stroke-width="1.4"/>
<polyline points="38.80,680.80 41.28,680.07 43.76,679.29 46.24,678.47 48.72,677.61 51.20,676.72 53.69,675.79 56.17,674.83 58.65,673.85 61.13,672.84 63.61,671.79 66.09,670.69 68.57,669.51 71.05,668.24 73.53,666.87 76.01,665.37 78.50,663.75 80.98,661.98 83.46,660.06 85.94,657.99 88.42,655.75 90.90,653.34 93.38,650.48 95.86,647.05 98.34,643.26 100.82,639.30 103.31,635.38 105.79,631.72 108.27,628.50 110.75,625.62 113.23,622.82 115.71,620.14 118.19,617.61 120.67,615.24 123.15,613.08 125.63,611.15 128.12,609.38 130.60,607.70 133.08,606.12 135.56,604.66 138.04,603.35 140.52,602.19 143.00,601.20" fill="none" stroke="#2A2021" stroke-width="1.4"/>
<line x1="41.20" y1="566.80" x2="47.60" y2="566.80" stroke="#E9573A" stroke-width="1.2"/>
<text x="49.40" y="568.80" font-size="8.1" text-anchor="start" fill="#111">shControl</text>
<line x1="41.20" y1="575.50" x2="47.60" y2="575.50" stroke="#2F6DB6" stroke-width="1.2"/>
<text x="49.40" y="577.00" font-size="8.1" text-anchor="start" fill="#111">shSt3gal3 #1</text>
<line x1="41.20" y1="583.00" x2="47.60" y2="583.00" stroke="#2A2021" stroke-width="1.2"/>
<text x="49.40" y="584.60" font-size="8.1" text-anchor="start" fill="#111">shSt3gal3 #1</text>
<text x="49.40" y="592.60" font-size="8.1" text-anchor="start" fill="#111">+aCXCR3</text>
<path d="M100.8 566.4H102.6V573.8H100.8" fill="none" stroke="#111" stroke-width="1"/>
<text x="104.40" y="572.00" font-size="8.15" text-anchor="start" fill="#111"><tspan font-style="italic">P</tspan> &lt; 0.001</text>
<path d="M100.8 577.0H102.6V584.4H100.8" fill="none" stroke="#111" stroke-width="1"/>
<text x="104.40" y="582.20" font-size="8.15" text-anchor="start" fill="#111"><tspan font-style="italic">P</tspan> &lt; 0.001</text>
<line x1="193.80" y1="567.40" x2="193.80" y2="681.40" stroke="#111" stroke-width="1.3"/>
<line x1="190.30" y1="680.80" x2="193.80" y2="680.80" stroke="#111" stroke-width="1.3"/>
<text x="188.50" y="683.70" font-size="8.15" text-anchor="end" fill="#111">0</text>
<line x1="190.30" y1="652.60" x2="193.80" y2="652.60" stroke="#111" stroke-width="1.3"/>
<text x="188.50" y="655.50" font-size="8.15" text-anchor="end" fill="#111">200</text>
<line x1="190.30" y1="624.40" x2="193.80" y2="624.40" stroke="#111" stroke-width="1.3"/>
<text x="188.50" y="627.30" font-size="8.15" text-anchor="end" fill="#111">400</text>
<line x1="190.30" y1="596.20" x2="193.80" y2="596.20" stroke="#111" stroke-width="1.3"/>
<text x="188.50" y="599.10" font-size="8.15" text-anchor="end" fill="#111">600</text>
<line x1="190.30" y1="568.00" x2="193.80" y2="568.00" stroke="#111" stroke-width="1.3"/>
<text x="188.50" y="570.90" font-size="8.15" text-anchor="end" fill="#111">800</text>
<line x1="193.20" y1="680.80" x2="264.40" y2="680.80" stroke="#111" stroke-width="1.3"/>
<line x1="207.30" y1="680.80" x2="207.30" y2="684.00" stroke="#111" stroke-width="1.3"/>
<line x1="228.50" y1="680.80" x2="228.50" y2="684.00" stroke="#111" stroke-width="1.3"/>
<line x1="249.80" y1="680.80" x2="249.80" y2="684.00" stroke="#111" stroke-width="1.3"/>
<rect x="200.00" y="606.80" width="14.60" height="73.50" fill="#A6A6A6"/>
<rect x="221.20" y="633.00" width="14.60" height="47.30" fill="#A6A6A6"/>
<rect x="242.50" y="598.00" width="14.60" height="82.30" fill="#A6A6A6"/>
<line x1="207.30" y1="590.20" x2="207.30" y2="622.60" stroke="#111" stroke-width="1.2"/>
<line x1="203.90" y1="590.20" x2="210.70" y2="590.20" stroke="#111" stroke-width="1.2"/>
<line x1="203.90" y1="622.60" x2="210.70" y2="622.60" stroke="#111" stroke-width="1.2"/>
<line x1="228.50" y1="625.60" x2="228.50" y2="639.60" stroke="#111" stroke-width="1.2"/>
<line x1="225.10" y1="625.60" x2="231.90" y2="625.60" stroke="#111" stroke-width="1.2"/>
<line x1="225.10" y1="639.60" x2="231.90" y2="639.60" stroke="#111" stroke-width="1.2"/>
<line x1="249.80" y1="588.20" x2="249.80" y2="608.00" stroke="#111" stroke-width="1.2"/>
<line x1="246.40" y1="588.20" x2="253.20" y2="588.20" stroke="#111" stroke-width="1.2"/>
<line x1="246.40" y1="608.00" x2="253.20" y2="608.00" stroke="#111" stroke-width="1.2"/>
<circle cx="207.20" cy="583.00" r="1.7" fill="none" stroke="#E8472E" stroke-width="1.0"/>
<circle cx="207.20" cy="596.00" r="1.7" fill="none" stroke="#E8472E" stroke-width="1.0"/>
<circle cx="202.00" cy="619.60" r="1.7" fill="none" stroke="#E8472E" stroke-width="1.0"/>
<circle cx="207.60" cy="616.00" r="1.7" fill="none" stroke="#E8472E" stroke-width="1.0"/>
<circle cx="213.00" cy="618.00" r="1.7" fill="none" stroke="#E8472E" stroke-width="1.0"/>
<circle cx="228.30" cy="620.80" r="1.7" fill="none" stroke="#2C6EB9" stroke-width="1.0"/>
<circle cx="223.20" cy="637.00" r="1.7" fill="none" stroke="#2C6EB9" stroke-width="1.0"/>
<circle cx="226.20" cy="635.00" r="1.7" fill="none" stroke="#2C6EB9" stroke-width="1.0"/>
<circle cx="230.20" cy="635.60" r="1.7" fill="none" stroke="#2C6EB9" stroke-width="1.0"/>
<circle cx="234.40" cy="636.00" r="1.7" fill="none" stroke="#2C6EB9" stroke-width="1.0"/>
<circle cx="234.40" cy="633.00" r="1.7" fill="none" stroke="#2C6EB9" stroke-width="1.0"/>
<circle cx="243.80" cy="588.80" r="1.7" fill="none" stroke="#222" stroke-width="1.0"/>
<circle cx="249.60" cy="592.00" r="1.7" fill="none" stroke="#222" stroke-width="1.0"/>
<circle cx="249.60" cy="595.20" r="1.7" fill="none" stroke="#222" stroke-width="1.0"/>
<circle cx="249.60" cy="601.00" r="1.7" fill="none" stroke="#222" stroke-width="1.0"/>
<circle cx="249.60" cy="613.80" r="1.7" fill="none" stroke="#222" stroke-width="1.0"/>
<path d="M203.80 570.00V568.80H222.60V570.00" fill="none" stroke="#111" stroke-width="1"/>
<text x="194.50" y="566.30" font-size="7.9" text-anchor="start" fill="#111" textLength="32.00" lengthAdjust="spacingAndGlyphs"><tspan font-style="italic">P</tspan> = 0.011</text>
<path d="M231.20 570.00V568.80H253.80V570.00" fill="none" stroke="#111" stroke-width="1"/>
<text x="228.40" y="566.30" font-size="7.9" text-anchor="start" fill="#111" textLength="33.40" lengthAdjust="spacingAndGlyphs"><tspan font-style="italic">P</tspan> = 0.002</text>
<text x="169.00" y="625.00" font-size="8.15" text-anchor="middle" fill="#111" transform="rotate(-90 169.00 625.00)">Tumor weight (mg)</text>
<text x="213.30" y="689.80" font-size="8.3" text-anchor="end" fill="#111" transform="rotate(-45 213.30 689.80)">shControl</text>
<text x="234.50" y="689.80" font-size="8.3" text-anchor="end" fill="#111" transform="rotate(-45 234.50 689.80)">shSt3gal3 #1</text>
<text x="253.00" y="690.80" font-size="8.3" text-anchor="end" fill="#111" transform="rotate(-45 253.00 690.80)">shSt3gal3 #1</text>
<text x="260.50" y="695.20" font-size="8.3" text-anchor="end" fill="#111" transform="rotate(-45 260.50 695.20)">+aCXCR3</text>
<!-- Panel I -->
<text x="287.60" y="583.60" font-size="13.2" text-anchor="start" font-weight="700" fill="#000">I</text>
<line x1="320.00" y1="590.72" x2="320.00" y2="682.40" stroke="#111" stroke-width="1.3"/>
<line x1="316.50" y1="681.80" x2="320.00" y2="681.80" stroke="#111" stroke-width="1.3"/>
<text x="314.70" y="684.70" font-size="8.15" text-anchor="end" fill="#111">0</text>
<line x1="316.50" y1="659.18" x2="320.00" y2="659.18" stroke="#111" stroke-width="1.3"/>
<text x="314.70" y="662.08" font-size="8.15" text-anchor="end" fill="#111">10</text>
<line x1="316.50" y1="636.56" x2="320.00" y2="636.56" stroke="#111" stroke-width="1.3"/>
<text x="314.70" y="639.46" font-size="8.15" text-anchor="end" fill="#111">20</text>
<line x1="316.50" y1="613.94" x2="320.00" y2="613.94" stroke="#111" stroke-width="1.3"/>
<text x="314.70" y="616.84" font-size="8.15" text-anchor="end" fill="#111">30</text>
<line x1="316.50" y1="591.32" x2="320.00" y2="591.32" stroke="#111" stroke-width="1.3"/>
<text x="314.70" y="594.22" font-size="8.15" text-anchor="end" fill="#111">40</text>
<line x1="319.40" y1="681.80" x2="404.40" y2="681.80" stroke="#111" stroke-width="1.3"/>
<line x1="338.40" y1="681.80" x2="338.40" y2="685.00" stroke="#111" stroke-width="1.3"/>
<line x1="363.40" y1="681.80" x2="363.40" y2="685.00" stroke="#111" stroke-width="1.3"/>
<line x1="388.40" y1="681.80" x2="388.40" y2="685.00" stroke="#111" stroke-width="1.3"/>
<rect x="330.00" y="651.80" width="16.80" height="29.50" fill="#E8472E"/>
<rect x="355.00" y="628.00" width="16.80" height="53.30" fill="#2C6EB9"/>
<rect x="380.00" y="658.30" width="16.80" height="23.00" fill="#4A4043"/>
<line x1="338.40" y1="641.40" x2="338.40" y2="661.40" stroke="#111" stroke-width="1.2"/>
<line x1="335.00" y1="641.40" x2="341.80" y2="641.40" stroke="#111" stroke-width="1.2"/>
<line x1="335.00" y1="661.40" x2="341.80" y2="661.40" stroke="#111" stroke-width="1.2"/>
<line x1="363.40" y1="623.80" x2="363.40" y2="632.60" stroke="#111" stroke-width="1.2"/>
<line x1="360.00" y1="623.80" x2="366.80" y2="623.80" stroke="#111" stroke-width="1.2"/>
<line x1="360.00" y1="632.60" x2="366.80" y2="632.60" stroke="#111" stroke-width="1.2"/>
<line x1="388.40" y1="647.60" x2="388.40" y2="668.80" stroke="#111" stroke-width="1.2"/>
<line x1="385.00" y1="647.60" x2="391.80" y2="647.60" stroke="#111" stroke-width="1.2"/>
<line x1="385.00" y1="668.80" x2="391.80" y2="668.80" stroke="#111" stroke-width="1.2"/>
<circle cx="338.40" cy="636.80" r="2.15" fill="#111"/>
<circle cx="345.00" cy="648.80" r="2.15" fill="#111"/>
<circle cx="338.40" cy="650.20" r="2.15" fill="#111"/>
<circle cx="338.40" cy="657.60" r="2.15" fill="#111"/>
<circle cx="338.40" cy="662.60" r="2.15" fill="#111"/>
<circle cx="338.40" cy="664.80" r="2.15" fill="#111"/>
<circle cx="363.40" cy="622.60" r="2.15" fill="#111"/>
<circle cx="358.40" cy="626.40" r="2.15" fill="#111"/>
<circle cx="370.00" cy="628.40" r="2.15" fill="#111"/>
<circle cx="363.40" cy="630.20" r="2.15" fill="#111"/>
<circle cx="363.40" cy="633.00" r="2.15" fill="#111"/>
<circle cx="381.80" cy="650.00" r="2.15" fill="#111"/>
<circle cx="395.00" cy="648.80" r="2.15" fill="#111"/>
<circle cx="388.40" cy="652.00" r="2.15" fill="#111"/>
<circle cx="388.40" cy="663.80" r="2.15" fill="#111"/>
<circle cx="388.40" cy="672.60" r="2.15" fill="#111"/>
<path d="M335.60 592.50V591.30H355.80V592.50" fill="none" stroke="#111" stroke-width="1"/>
<text x="327.50" y="588.80" font-size="7.9" text-anchor="start" fill="#111"><tspan font-style="italic">P</tspan> = 0.003</text>
<path d="M371.20 592.50V591.30H391.40V592.50" fill="none" stroke="#111" stroke-width="1"/>
<text x="366.20" y="588.80" font-size="7.9" text-anchor="start" fill="#111"><tspan font-style="italic">P</tspan> &lt; 0.001</text>
<text x="289.00" y="635.60" font-size="8.15" text-anchor="middle" fill="#111" transform="rotate(-90 289.00 635.60)">Percentage of</text>
<text x="301.80" y="634.00" font-size="8.15" text-anchor="middle" fill="#111" transform="rotate(-90 301.80 634.00)">CD3<tspan dy="-3.3" font-size="7.0">+</tspan><tspan dy="3.3" font-size="7.0">&#8203;</tspan>CD8<tspan dy="-3.3" font-size="7.0">+</tspan><tspan dy="3.3" font-size="7.0">&#8203;</tspan> in CD45<tspan dy="-3.3" font-size="7.0">+</tspan><tspan dy="3.3" font-size="7.0">&#8203;</tspan></text>
<text x="344.40" y="690.80" font-size="8.3" text-anchor="end" fill="#111" transform="rotate(-45 344.40 690.80)">shControl</text>
<text x="369.40" y="690.80" font-size="8.3" text-anchor="end" fill="#111" transform="rotate(-45 369.40 690.80)">shSt3gal3 #1</text>
<text x="391.60" y="691.80" font-size="8.3" text-anchor="end" fill="#111" transform="rotate(-45 391.60 691.80)">shSt3gal3 #1</text>
<text x="399.10" y="696.20" font-size="8.3" text-anchor="end" fill="#111" transform="rotate(-45 399.10 696.20)">+aCXCR3</text>
</svg></body></html>
